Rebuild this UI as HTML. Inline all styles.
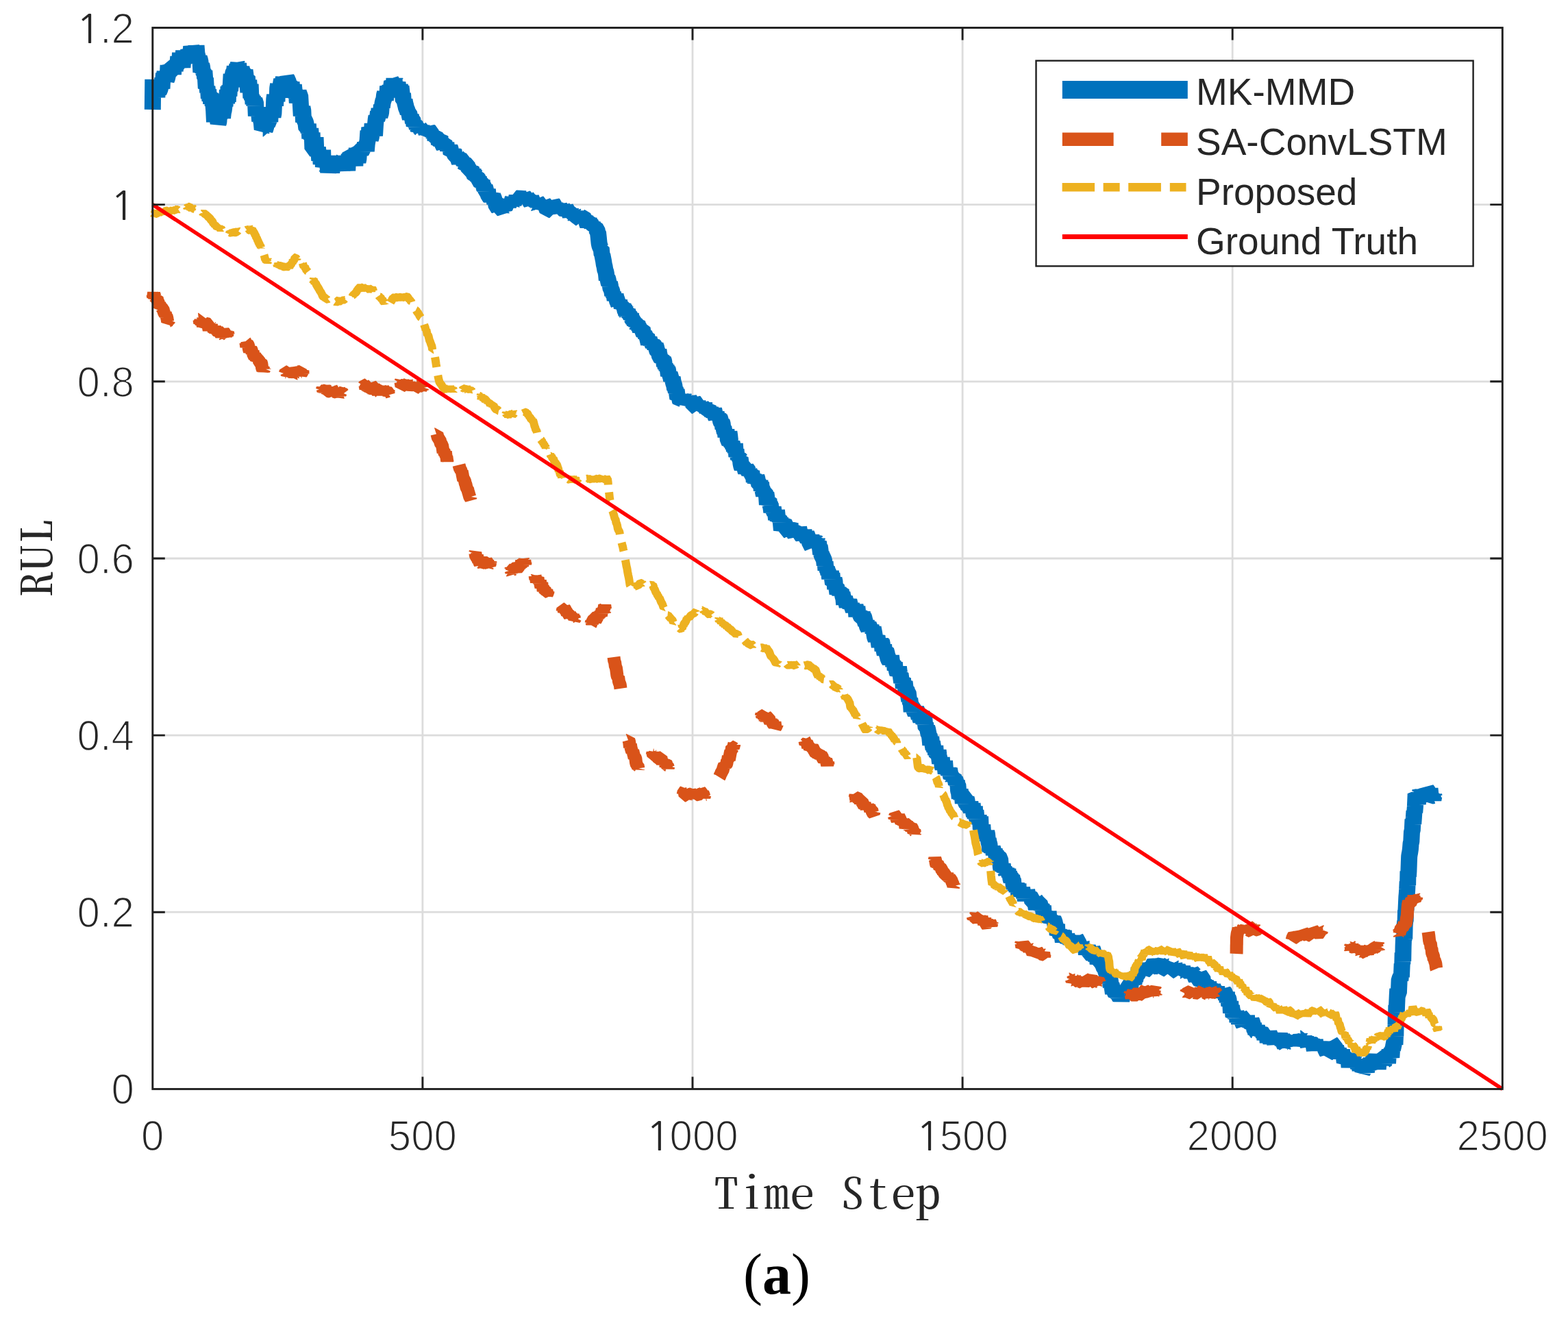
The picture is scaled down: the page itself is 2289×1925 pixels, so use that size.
<!DOCTYPE html>
<html><head><meta charset="utf-8"><title>RUL prediction</title>
<style>html,body{margin:0;padding:0;background:#fff;}svg{display:block;}</style>
</head><body>
<svg xmlns="http://www.w3.org/2000/svg" width="2289" height="1925" viewBox="0 0 2289 1925">
<rect width="2289" height="1925" fill="#fff"/>
<path d="M616.9 40.5V1589.4M1011.0 40.5V1589.4M1405.1 40.5V1589.4M1799.2 40.5V1589.4M222.8 1331.2H2193.3M222.8 1073.1H2193.3M222.8 815.0H2193.3M222.8 556.8H2193.3M222.8 298.6H2193.3" stroke="#dcdcdc" stroke-width="2.8" fill="none"/>
<g fill="none" stroke-linejoin="round">
<path d="M222.8 160L223.3 116 223.7 139.3 224.7 134.4 225.6 129.3 226.5 131.5 227.5 126.9 228.4 133.4 229.3 141.6 230.3 127.9 231.2 126.2 232.1 133.1 233.1 131.3 234 128.7 234.8 120.3 235.7 125.3 236.5 129.1 237.3 113.6 238.2 118.6 239 107.2 239.8 110.2 240.6 105.1 241.5 115.1 242.3 106.7 243.1 116.2 244 114.1 244.8 110.5 245.6 95.5 246.5 105.6 247.4 107.8 248.4 107.7 249.3 95.1 250.2 101.2 251.1 96.5 252 96.5 252.9 108.4 253.9 94.2 254.8 98.4 255.7 103.6 256.6 92.2 257.5 94.3 258.4 94.7 259.4 93.2 260.3 82.9 261.2 90.9 262.1 98.7 263 77.1 263.9 93.1 264.7 86.9 265.5 80.7 266.4 98.2 267.2 88.7 268.1 74 268.9 82 269.7 84.6 270.6 78.3 271.4 83.5 272.3 77.5 273.3 82.4 274.3 87.6 275.3 72.6 276.3 78.6 277.2 73.7 278.2 77.6 279.2 68.2 280.2 72.3 281.2 74.8 282.1 82.4 283 85 283.9 68.6 284.8 73.2 285.6 84.2 286.5 66.6 287.4 78.2 288.3 81.6 289.2 92 290 88.9 290.9 84.4 291.7 86.7 292.5 90.2 293.4 105.2 294.2 94.2 295 97.7 295.9 104.9 296.7 104.2 297.5 106.6 298.3 103.3 299.1 114.1 300 114.3 300.8 128.7 301.6 128.2 302.4 126.6 303.2 134.6 304.1 130.7 304.9 143.6 305.7 139.3 306.5 146.6 307.3 136.6 308.2 151.2 309 140.1 309.9 140.1 310.7 154.3 311.4 152.2 312.2 161.8 313 177.8 313.8 159 314.6 162.6 315.4 170.5 316.2 174.6 317 172 317.8 173.9 318.6 180 319.4 177.5 320.2 165.3 321 170.7 321.8 170.3 322.6 161.4 323.4 169.3 324.2 160.2 325 171.8 325.9 164 326.7 160.9 327.6 153.8 328.5 154.8 329.3 139.3 330.2 143 331.1 151.1 331.9 131.3 332.7 148.5 333.6 126.4 334.4 140 335.2 124.9 336 132.3 336.8 123.9 337.7 108.3 338.5 123.9 339.3 121.3 340.1 107.4 341 104.7 341.9 104.3 342.8 97.4 343.7 110.7 344.6 98 345.5 100.3 346.4 94.7 347.3 96.3 348.1 92.3 349 110.5 349.9 101.1 350.7 109.5 351.6 103.3 352.5 98.8 353.3 102.3 354.1 102.2 355 107.7 355.8 106.6 356.6 108.6 357.5 102.6 358.3 108.2 359.1 126.9 359.9 112.2 360.8 112.1 361.6 124.5 362.4 134.6 363.2 117.2 364 128.6 364.8 128.2 365.6 123 366.4 143.1 367.2 140.4 368 143.7 368.8 140.5 369.6 151.6 370.4 147.3 371.3 152.7 372.2 148 373 149.3 373.9 169.2 374.8 158.4 375.7 166.1 376.6 165.9 377.4 165.1 378.3 166.7 379.2 176.7 380.1 172.3 381 175.4 381.8 178.7 382.7 188.8 383.6 187.4 384.5 187.4 385.3 181.5 386.2 174 387.1 188.5 388 186.8 388.9 177.3 389.8 180.3 390.7 180.2 391.5 178.7 392.4 177.6 393.3 166.1 394.2 177.8 395 156.4 395.9 169.1 396.8 164.5 397.7 165.1 398.5 170 399.4 165.2 400.3 144.7 401.1 138.8 402 154.3 402.8 139.3 403.6 144.3 404.4 148.1 405.2 128.7 406.1 123.3 406.9 137.8 407.7 134.2 408.5 130.1 409.3 130 410.1 121.9 411.1 116.5 412 125.1 413 118.6 413.9 113.1 414.9 127.4 415.8 122.6 416.8 125 417.7 115.3 418.6 118 419.5 116 420.5 117.2 421.4 125.1 422.2 118.8 423 128 423.8 129.2 424.7 142.2 425.5 119.5 426.3 136.7 427.2 131.1 428 132.9 428.8 124.1 429.7 132.3 430.5 142 431.3 137.4 432.2 139.8 433 138.5 433.8 149.8 434.7 143.9 435.5 131.7 436.4 144.5 437.2 138.2 438.1 139.5 438.9 153.5 439.8 169.1 440.6 162.7 441.4 156.8 442.3 161.1 443.1 178.2 444 174 444.8 175.8 445.7 177.5 446.5 180.2 447.4 187.7 448.2 188 449 187.7 449.8 181 450.6 194 451.5 187.7 452.3 202.2 453.1 187.8 453.9 197.8 454.7 200.8 455.6 193.7 456.4 217.1 457.2 217.4 458 206 458.8 216.8 459.7 216.1 460.5 200.5 461.3 219.4 462.1 219.3 462.9 222.4 463.8 215.5 464.7 222.1 465.5 223.7 466.3 234.2 467.1 229.2 467.9 227.7 468.7 239.4 469.5 225.8 470.3 227.9 471.1 218.9 471.9 243.6 472.7 240.3 473.5 240.9 474.3 240.1 475.1 237.2 475.9 238.9 476.7 236.5 477.5 237.8 478.3 240.6 479.2 251.6 480.2 244.7 481.2 240.3 482.2 236.5 483.2 236 484.2 251.5 485.2 243.7 486.2 240.5 487.2 237.5 488.1 232 489.1 239.2 490.1 245.7 491.1 236.7 492.1 237.7 493.1 237.6 494.1 239.8 495.1 227.8 496.1 237.1 497.1 232.7 498.1 244.7 499.1 233 500 242.3 501 248.8 502 235.8 502.9 233.3 503.7 238.3 504.6 236.4 505.4 228.9 506.3 238.6 507.2 249 508 232.5 508.9 232.4 509.7 226 510.6 235 511.4 223.5 512.3 224 513.1 240.2 514 224.4 514.8 237.8 515.7 240.3 516.5 231 517.4 232.5 518.3 241.8 519.1 226.2 520 222.9 520.8 217.1 521.7 226.3 522.5 235.9 523.4 231.7 524.2 217.9 525.1 217.9 525.9 218.9 526.8 222.9 527.7 217.9 528.6 219.4 529.5 218.4 530.4 212.8 531.3 213.1 532.2 213.3 533 209.7 533.9 212.3 534.8 220.4 535.7 210 536.6 204.7 537.5 191 538.4 204 539.3 186.1 540.1 188.4 541 202.7 541.9 200.1 542.8 192.7 543.7 180.7 544.6 188.3 545.4 184.4 546.2 190.7 547 198.1 547.9 183.2 548.7 174.5 549.5 169.7 550.3 174.4 551.2 171.3 552 163 552.8 168.4 553.6 158.4 554.5 169.5 555.3 166.8 556.1 164.5 556.9 153.2 557.8 156.4 558.6 150.4 559.4 146.9 560.3 145.4 561.1 138.4 561.9 135.9 562.8 146 563.6 139 564.4 139.3 565.3 141.4 566.1 125.8 566.9 128.8 567.8 131.7 568.6 131 569.4 125.4 570.3 130.7 571.2 126.3 572.1 119.2 572.9 120.1 573.8 127.4 574.7 125.4 575.5 114.6 576.4 128.1 577.3 124.7 578.1 128.3 578.9 121.8 579.7 122.7 580.5 120 581.3 133.5 582.1 125 583 132.3 583.8 124.4 584.6 129.7 585.5 126 586.3 133.5 587.1 141.2 588 136.4 588.8 147.1 589.6 147.5 590.5 145.9 591.3 150.6 592.1 153.6 593 157.8 593.8 159.2 594.6 161.3 595.5 164.9 596.3 164.2 597.2 164.8 598 169.4 598.8 173 599.7 168.1 600.5 173.3 601.3 172.9 602.2 173.3 603 179.1 603.8 176.9 604.7 183.2 605.5 178.8 606.3 182.9 607.2 182.7 608 182.6 608.8 187.2 609.6 185.9 610.5 188.2 611.5 186.9 612.4 184.7 613.3 187.6 614.2 188.4 615.1 191 616 186.8 617 189.3 617.9 185.5 618.8 191.8 619.7 187.9 620.6 186.5 621.6 191.2 622.5 194.5 623.4 188.4 624.3 189.8 625.2 191.1 626.2 190.5 627.1 194.7 628 192.1 628.9 192.7 629.8 196.4 630.8 193.8 631.7 197.6 632.7 195 633.6 195.2 634.5 194.5 635.5 204.5 636.4 199.9 637.3 202.2 638.2 202.3 639.2 203.6 640.1 204.2 641 209.7 642 203.1 642.9 202.7 643.8 204.9 644.8 204.9 645.7 210.9 646.6 211.9 647.6 208.3 648.5 208.1 649.4 211.5 650.3 216.7 651.3 208.7 652.2 216.2 653.1 213.1 654 219.2 655 214.8 655.9 217.6 656.8 215.4 657.7 217.5 658.6 224.3 659.6 223.7 660.5 221.5 661.4 221.2 662.3 219.5 663.2 224.1 664.2 225.8 665.1 226.5 666 227.4 666.9 225.6 667.9 229.1 668.8 230 669.7 234.2 670.6 236.5 671.5 232.3 672.5 231.6 673.4 234.2 674.2 233.8 675.1 234.3 675.9 237 676.8 235.4 677.6 240.4 678.5 239.6 679.4 241.4 680.2 241.2 681.1 240.7 681.9 241.1 682.8 243.8 683.7 243.9 684.5 246.8 685.4 247.1 686.2 244.6 687.1 249.1 687.9 246.5 688.8 249.2 689.7 250.9 690.5 247.4 691.3 253.7 692.1 254.8 693 255 693.8 255.3 694.6 256.4 695.4 255.8 696.2 258.5 697 258.7 697.9 261.3 698.7 259 699.5 263.6 700.3 264.3 701.1 264.5 702 264.7 702.8 268.1 703.6 263.8 704.4 270.4 705.3 271.1 706.1 272.5 706.9 274 707.7 272.6 708.5 274.9 709.3 278.4 710.1 279.1 711 279.8 711.8 276.8 712.6 283.2 713.4 286 714.3 286.8 715.1 285.9 715.9 282.3 716.7 289.5 717.5 287.8 718.3 283.7 719.1 291 719.9 287.3 720.7 288.7 721.5 291.3 722.3 297.1 723.1 293.9 723.9 296.5 724.7 301.1 725.5 301.7 726.3 298.4 727.1 299 728 297.4 728.8 299.8 729.6 303.5 730.5 303.8 731.4 302.6 732.4 304.5 733.3 299.6 734.2 301 735.1 302.6 736 301.8 736.9 302.6 737.9 300.6 738.8 298.4 739.7 299.7 740.6 295.9 741.5 293.9 742.4 299 743.3 297 744.3 297.5 745.2 292.1 746.1 295 746.9 293.9 747.8 292.7 748.6 289 749.5 293 750.3 295.5 751.2 293.7 752 290.7 752.9 291.7 753.7 293.1 754.6 285.3 755.4 289.8 756.3 290.9 757.1 290.8 758 292.8 758.8 290.8 759.7 288.2 760.5 287.7 761.4 288.4 762.2 284.8 763.1 286.5 764 289.3 764.9 292.4 765.8 287.6 766.6 288.3 767.5 289.4 768.4 292.7 769.3 289.7 770.2 293.9 771.1 288.3 772 290.7 772.9 291.2 773.7 294.1 774.6 295.2 775.5 289.3 776.4 291.2 777.3 294.8 778.2 292.8 779.1 291.1 780 297.9 780.8 297 781.7 297.5 782.6 295.5 783.5 299.8 784.4 297 785.3 300.8 786.2 296.3 787.1 296.9 788 299.7 789 297.6 790 301.3 791 300.4 792 297.6 793 300.3 793.9 299.4 794.9 302.8 795.9 299.1 796.9 299.8 797.9 304.1 798.9 306.6 799.8 306.4 800.8 301.7 801.8 302.3 802.8 305.8 803.8 301.8 804.8 299.9 805.7 302.8 806.7 303.8 807.7 300.8 808.7 298.9 809.7 299.7 810.6 305.1 811.6 301.7 812.6 303.4 813.6 304.5 814.6 305.7 815.6 303.5 816.5 305.8 817.5 302.5 818.5 304 819.5 302.6 820.4 308.4 821.3 305.8 822.3 304.4 823.2 305.7 824.1 306.4 825.1 309.1 826 303.7 827 305.4 827.9 307.4 828.8 314.1 829.8 311.5 830.7 309.2 831.6 311.6 832.6 315.3 833.5 309.9 834.4 309.9 835.4 314.2 836.3 312.8 837.2 313.6 838.2 311 839.1 317.4 840 317.3 841 314.8 841.9 315.4 842.8 309 843.8 316 844.7 314.3 845.7 316.2 846.6 317.2 847.5 315 848.4 312.1 849.3 318 850.3 316 851.3 317.9 852.2 318 853.2 319.4 854.2 315.7 855.1 324.9 856.1 323.3 857 326.3 858 329.2 859 325.1 859.9 321.4 860.9 324.4 861.9 324.4 862.8 327 863.8 329.2 864.8 324.8 865.7 331.5 866.7 327.7 867.6 333 868.6 332.8 869.6 333 870.5 334.4 871.4 335.3 872.2 338.5 873 339.2 873.8 346.8 874.6 354.9 875.4 358.6 876.1 360.4 876.9 362.2 877.7 362.2 878.6 371.7 879.4 372.3 880.2 376.7 881 380.6 881.8 386 882.6 389.1 883.4 394.4 884.2 395.8 885 399.9 885.8 408.6 886.7 405.4 887.5 407.4 888.3 411.6 889.2 414.4 890 412.2 890.8 416.9 891.7 422 892.5 422.8 893.3 424.8 894.2 430.7 895 427.5 895.8 431.7 896.8 431.7 897.7 437.9 898.6 430.5 899.5 434.9 900.4 436.4 901.3 440.6 902.2 441.7 903.1 444.8 904 438.6 905 445.6 905.9 444.2 906.8 444.4 907.7 448.6 908.6 446.2 909.6 444.5 910.4 449.7 911.2 447.8 912 450.9 912.8 454.4 913.6 455.2 914.4 459.3 915.2 455.8 916 453.4 916.8 456.3 917.6 456.9 918.5 457.1 919.3 462.2 920.1 460.4 920.9 458 921.7 465.7 922.5 464.6 923.3 466.7 924.1 467.1 924.9 469.3 925.7 468.8 926.7 473 927.6 472.1 928.5 473.2 929.4 474.5 930.3 471 931.3 475.4 932.2 476.3 933.1 478.7 934 476 934.9 484.6 935.8 482 936.8 479.9 937.7 479.8 938.6 484.6 939.5 486.3 940.4 485.9 941.3 489.1 942.3 488.4 943.2 492.6 944.1 490.6 945 493.5 945.9 497.2 946.9 501.4 947.8 494.7 948.7 497.2 949.6 497.4 950.5 502.7 951.4 499 952.4 501.9 953.3 504.2 954.2 503 955.1 504.3 956 506.7 956.9 503.8 957.9 506.6 958.8 510.4 959.7 513 960.5 513.4 961.4 510.9 962.2 515.7 963.1 520.4 964 521.3 964.8 521.3 965.7 520.8 966.6 526.1 967.4 524.6 968.3 524.6 969.2 527.1 970 534.2 970.9 532.6 971.8 536.5 972.6 534.2 973.5 539.6 974.3 537.6 975.1 540.5 976 548.1 976.8 546.4 977.6 545.1 978.4 548 979.3 550.8 980.1 554.8 980.9 552.4 981.7 551.1 982.6 556.8 983.4 559.9 984.3 562.5 985.1 567.9 985.9 567.7 986.8 571.3 987.6 568.9 988.5 576.2 989.3 581.6 990.2 580.6 991.1 581.6 992.1 581.6 993 585.9 994 579.3 995 581.5 996 583.1 997 584.1 997.9 581.3 998.9 583.4 999.9 582.1 1000.9 583.3 1001.9 582.8 1002.8 580.4 1003.8 583.5 1004.8 586.1 1005.8 581.4 1006.8 583.5 1007.7 586.2 1008.7 581.6 1009.7 585.3 1010.7 581.9 1011.6 588.6 1012.4 592 1013.3 592.2 1014.2 586.2 1015 589.6 1015.9 588.2 1016.8 588.7 1017.6 593.6 1018.5 585.4 1019.3 593.2 1020.2 590.3 1021.1 595.3 1021.9 592 1022.8 589.8 1023.7 593.3 1024.5 595.3 1025.4 593.6 1026.2 595.6 1027.1 592.7 1028 587.9 1028.8 598.5 1029.7 598.3 1030.6 596.9 1031.5 597.1 1032.4 600.9 1033.3 596.2 1034.2 595.7 1035 598 1035.9 603.4 1036.8 594.6 1037.7 604.4 1038.6 598.2 1039.5 597 1040.3 606.2 1041.2 601.6 1042.1 597.5 1043 601.5 1043.9 606.9 1044.8 608.4 1045.7 602.6 1046.5 606.3 1047.3 608.4 1048.2 604.7 1049 610.2 1049.8 610.2 1050.6 609.7 1051.4 611.4 1052.2 615.2 1053 616.6 1053.8 615.8 1054.6 617.9 1055.5 625.6 1056.3 623.6 1057.1 627.8 1057.9 630.6 1058.7 629.7 1059.5 637.5 1060.3 627.2 1061.1 635.2 1062 632.3 1062.8 642.5 1063.6 643.5 1064.4 630.4 1065.2 635.9 1066 644 1066.8 646 1067.6 647.4 1068.5 645.7 1069.3 649.6 1070.2 652.4 1071.1 651.6 1071.9 658.1 1072.8 647.5 1073.7 660.7 1074.5 656.1 1075.4 666.1 1076.3 663.4 1077.1 662.9 1078 670 1078.9 666.9 1079.8 669 1080.6 668.5 1081.5 676.7 1082.3 680.3 1083.3 683.2 1084.2 679.4 1085.1 685 1086 681.7 1087 682.1 1087.9 685.7 1088.8 688.4 1089.7 683.7 1090.6 684.9 1091.6 686.1 1092.5 687.9 1093.4 684.8 1094.3 693.4 1095.3 688.5 1096.2 692.8 1097.1 688.5 1098 694.1 1099 695 1099.9 692.6 1100.8 703.2 1101.7 697.5 1102.6 704 1103.6 701.5 1104.5 695.9 1105.3 698.2 1106.1 703.3 1106.9 703.6 1107.7 705.4 1108.5 705.9 1109.4 701.7 1110.2 709.8 1111 704 1111.8 715.9 1112.6 713.3 1113.4 715.2 1114.2 719 1115 722.8 1115.8 717.8 1116.7 718.1 1117.5 722.1 1118.3 719.4 1119.1 725 1119.9 736.5 1120.7 727.2 1121.5 735.2 1122.3 728.4 1123.1 736.4 1123.9 735.2 1124.7 737.5 1125.5 741.2 1126.3 747.3 1127.1 742.3 1127.9 743.3 1128.7 740.1 1129.6 747.6 1130.5 745.8 1131.3 751.6 1132.2 749.7 1133.1 758.3 1133.9 744.9 1134.8 753.2 1135.7 759.4 1136.5 756 1137.4 755.8 1138.3 759.4 1139.1 756.5 1140 764 1140.9 773.6 1141.7 771.1 1142.7 762.9 1143.6 764.3 1144.5 766.6 1145.4 772.6 1146.3 765.8 1147.2 766.7 1148.1 773.5 1149 773.8 1149.9 769.3 1150.8 766.7 1151.7 765.4 1152.6 769.3 1153.5 763.9 1154.4 775.9 1155.3 770.9 1156.2 775.7 1157.1 781.7 1158 779.4 1158.9 770.5 1159.8 779 1160.7 780.6 1161.6 773.4 1162.5 773 1163.4 776.8 1164.3 771.3 1165.2 784 1166.1 770 1167 774.6 1167.9 778.3 1168.8 778.9 1169.7 780.9 1170.6 781.8 1171.5 780.2 1172.4 786.1 1173.4 773.4 1174.3 782.4 1175.2 779.9 1176.1 783.7 1177 784.5 1177.9 780.4 1178.8 781.9 1179.7 788 1180.6 786.7 1181.5 783 1182.4 794.3 1183.3 795.1 1184.3 781.1 1185.2 788.6 1186.1 796.4 1187 791.4 1187.9 789.5 1188.8 788.2 1189.7 787.3 1190.6 789 1191.5 788.1 1192.4 793.7 1193.2 790 1194 791.9 1194.9 791 1195.7 797.7 1196.5 796.4 1197.3 801.3 1198.1 808.3 1198.9 807.7 1199.7 810.4 1200.6 812.4 1201.4 813.8 1202.2 815.7 1203 817.6 1203.8 824.5 1204.6 819.8 1205.5 832.1 1206.3 829.5 1207.1 829 1207.9 832.7 1208.7 833.4 1209.5 838 1210.3 835.8 1211.2 844.5 1212 838.1 1212.8 833.9 1213.6 840.8 1214.4 836.9 1215.2 846.1 1216 851.7 1216.8 851.4 1217.6 844.7 1218.4 848.2 1219.2 859.7 1220 855.1 1220.9 855.1 1221.7 860.6 1222.5 866.2 1223.3 864.1 1224.1 860.7 1225 863.1 1225.9 865.6 1226.8 862.2 1227.7 861.9 1228.6 867.9 1229.5 865.4 1230.4 870.4 1231.3 872.5 1232.2 882.2 1233.1 871.7 1234 876.2 1234.9 877.5 1235.8 881.4 1236.6 884.8 1237.5 879.5 1238.5 879 1239.4 876.6 1240.3 880.3 1241.2 887 1242.1 885.8 1243.1 882.4 1244 885.9 1244.9 888.3 1245.8 891.1 1246.7 887.5 1247.6 889.7 1248.6 884.3 1249.5 887.8 1250.4 899.8 1251.3 885.5 1252.2 893.6 1253.2 896.7 1254.1 895.2 1255 894.3 1255.9 898.1 1256.8 899.2 1257.7 899.7 1258.7 893.4 1259.6 901.2 1260.5 899.2 1261.4 901.3 1262.3 905.3 1263.1 908.2 1263.9 910.5 1264.8 906.1 1265.6 913.1 1266.4 915.3 1267.2 916.4 1268.1 918.7 1268.9 913.8 1269.7 914.9 1270.6 920.2 1271.4 912.6 1272.2 920.2 1273.1 918.5 1273.9 920.4 1274.7 916.1 1275.6 920.8 1276.4 925.5 1277.2 930.4 1278.1 932.1 1278.9 929 1279.7 929.8 1280.5 928.5 1281.3 934.7 1282.1 933.4 1282.9 938.1 1283.7 944 1284.5 938.1 1285.3 933.5 1286.1 937.3 1286.9 936.2 1287.7 938.5 1288.5 949.8 1289.3 946.8 1290.1 941 1290.9 951 1291.7 954.7 1292.6 949.4 1293.4 949.4 1294.2 952 1295.1 955.7 1295.9 958.4 1296.7 961.8 1297.6 963.2 1298.4 964.3 1299.2 966.3 1300.1 964.7 1300.9 957.2 1301.7 964.1 1302.6 967.1 1303.4 965.6 1304.2 972 1305.1 968.1 1305.9 967.1 1306.7 977.9 1307.6 976 1308.4 975.7 1309.3 980.4 1310.1 982.7 1311 981.6 1311.9 973.5 1312.8 981.2 1313.6 983.8 1314.5 983.5 1315.4 990.1 1316.2 995.8 1317.1 990.9 1318 990.1 1318.8 1004.6 1319.7 996.5 1320.6 995.1 1321.5 1002.8 1322.3 1005.6 1323.1 1003.7 1324 1012.3 1324.8 1009.8 1325.7 1010.7 1326.5 1017.7 1327.4 1022.7 1328.2 1019.7 1329 1026.2 1329.9 1027.1 1330.7 1038.7 1331.6 1028.8 1332.4 1038.1 1333.2 1033.3 1334.1 1033.9 1334.9 1038.2 1335.8 1039.8 1336.6 1042.2 1337.4 1039.4 1338.3 1036.6 1339.1 1037.8 1340 1042.9 1340.8 1044.1 1341.6 1048.3 1342.5 1045.3 1343.3 1048.8 1344.2 1051.6 1345 1047.1 1345.9 1041.4 1346.7 1043.5 1347.5 1043.4 1348.4 1056.5 1349.2 1047.6 1350.1 1056.9 1350.9 1055.2 1351.7 1062.6 1352.5 1062.9 1353.3 1061.6 1354.2 1064.4 1355 1068.7 1355.8 1072.2 1356.6 1072.5 1357.4 1077.6 1358.3 1087.1 1359.2 1075.6 1360 1085.3 1360.9 1082.4 1361.8 1088.6 1362.6 1093 1363.5 1091.2 1364.3 1096.4 1365.2 1088.7 1366.1 1101.3 1366.9 1096.3 1367.8 1103 1368.7 1103 1369.6 1095.2 1370.4 1102 1371.3 1107.1 1372.1 1113.7 1373 1109.9 1373.9 1111 1374.7 1105.5 1375.6 1118.1 1376.4 1120.8 1377.3 1115 1378.2 1115.2 1379 1110.8 1379.9 1122.1 1380.7 1128.4 1381.6 1123.9 1382.5 1127.3 1383.3 1125.6 1384.2 1120.7 1385 1131.3 1385.9 1122.2 1386.8 1127.5 1387.6 1130.7 1388.5 1134.4 1389.3 1133.7 1390.1 1134.9 1391 1132.1 1391.8 1131.8 1392.6 1139 1393.4 1137.8 1394.2 1137.2 1395 1139.2 1395.9 1144.1 1396.7 1140.5 1397.5 1144.3 1398.3 1145 1399.1 1154.1 1400 1156.8 1400.8 1165.1 1401.6 1152.9 1402.4 1158 1403.4 1166.1 1404.2 1162.5 1405 1163 1405.8 1172.1 1406.6 1164.9 1407.4 1162.6 1408.2 1162.9 1409 1170.4 1409.8 1171.3 1410.7 1165.5 1411.5 1168 1412.3 1175 1413.1 1176.2 1413.9 1172.2 1414.7 1178.2 1415.5 1179 1416.3 1170.5 1417.1 1177.4 1418 1181.2 1418.8 1178.2 1419.6 1172.9 1420.4 1181.3 1421.2 1186.4 1422 1190.6 1422.8 1176.7 1423.6 1194.8 1424.4 1182.7 1425.2 1191.9 1426.1 1194.2 1427 1195.1 1427.8 1193.6 1428.6 1190.1 1429.4 1199.1 1430.2 1195.6 1431 1191.7 1431.8 1210.7 1432.6 1206.8 1433.4 1213 1434.2 1203.9 1435.1 1215.5 1435.9 1218.1 1436.8 1220.1 1437.6 1215.8 1438.5 1213.2 1439.3 1219.4 1440.2 1213.6 1441 1217.5 1441.9 1226.7 1442.7 1224.5 1443.6 1229.9 1444.4 1232.2 1445.3 1242.1 1446.2 1241.1 1447.1 1237.2 1448 1243.7 1448.9 1237.3 1449.9 1240.5 1450.8 1247 1451.7 1239.9 1452.6 1245.2 1453.5 1242.5 1454.5 1249.8 1455.4 1257.3 1456.3 1249.3 1457.2 1254.7 1458.1 1251.7 1459.1 1252.2 1460 1253.3 1460.9 1265.5 1461.8 1269.8 1462.7 1264.6 1463.6 1261.3 1464.6 1268.5 1465.5 1265.8 1466.3 1271.6 1467.1 1270.8 1468 1272.1 1468.8 1274.6 1469.6 1271.1 1470.5 1273.1 1471.3 1269 1472.1 1275.4 1472.9 1272.7 1473.8 1279.1 1474.6 1277.1 1475.4 1282.6 1476.3 1285.2 1477.1 1279 1477.9 1282.7 1478.8 1283.4 1479.6 1291.4 1480.4 1296.5 1481.3 1294.3 1482.1 1290.8 1482.9 1299.3 1483.8 1288.6 1484.6 1301.9 1485.4 1294.5 1486.4 1289.7 1487.2 1307.5 1488 1305.8 1488.8 1296 1489.6 1301.4 1490.4 1300.4 1491.2 1302.3 1492 1296.5 1492.8 1300.4 1493.6 1305.6 1494.4 1305.2 1495.2 1309.7 1496 1305.8 1496.8 1314.7 1497.6 1303.8 1498.4 1308.3 1499.2 1300.2 1500 1303.5 1500.8 1314.4 1501.6 1305.9 1502.4 1312.4 1503.2 1310.6 1504 1307.3 1504.8 1310.7 1505.6 1310.6 1506.4 1311.3 1507.2 1316.9 1508 1317.1 1508.8 1312.8 1509.6 1312.1 1510.4 1317.4 1511.2 1316.5 1512 1321.6 1512.8 1326.7 1513.6 1322.1 1514.4 1319.1 1515.2 1319.2 1516 1317.1 1516.8 1317.5 1517.6 1317.7 1518.5 1320.9 1519.4 1321.7 1520.2 1327.3 1521.1 1323.6 1521.9 1325.4 1522.8 1322.2 1523.7 1334.5 1524.5 1330.9 1525.4 1336.9 1526.2 1333.9 1527.1 1337.6 1528 1331.5 1528.8 1336.3 1529.7 1342.9 1530.5 1330.3 1531.4 1340.8 1532.3 1343.8 1533.1 1339.6 1534 1341.9 1534.8 1344.9 1535.7 1338 1536.6 1343.8 1537.5 1340.4 1538.4 1343 1539.3 1345 1540.2 1348.7 1541.1 1351.7 1541.9 1354.7 1542.8 1348.9 1543.7 1364.6 1544.6 1363 1545.5 1363 1546.4 1360.4 1547.4 1362.8 1548.3 1365.9 1549.2 1365.8 1550.1 1357.7 1550.9 1368.1 1551.8 1374.2 1552.7 1358.4 1553.6 1370.6 1554.5 1368.5 1555.4 1367 1556.2 1373.5 1557.1 1363.5 1558 1369.5 1558.9 1375.3 1559.8 1369 1560.7 1368.5 1561.5 1371.2 1562.4 1369.3 1563.3 1378 1564.2 1368.4 1565.1 1376.2 1566 1367.9 1566.8 1376.3 1567.7 1373.5 1568.6 1365.8 1569.5 1374.9 1570.4 1371 1571.3 1374 1572.1 1382.6 1573 1372.2 1573.9 1372.9 1574.8 1383.6 1575.7 1378.7 1576.6 1385 1577.4 1380.4 1578.3 1376 1579.2 1379.8 1580.1 1385.6 1581 1384.9 1582 1381.8 1583 1382.7 1583.9 1382.8 1584.9 1381.7 1585.9 1392.8 1586.9 1385.6 1587.9 1381.7 1588.9 1385.2 1589.8 1390.9 1590.8 1391.3 1591.8 1388.9 1592.8 1387.5 1593.8 1391.1 1594.8 1384.9 1595.8 1387.2 1596.7 1396.6 1597.7 1392.1 1598.7 1396.4 1599.7 1400.6 1600.7 1399.1 1601.7 1397.3 1602.6 1406.5 1603.6 1401.5 1604.5 1398.4 1605.3 1404.5 1606.1 1404.7 1607 1401 1607.8 1406.4 1608.6 1406.9 1609.5 1401.1 1610.3 1410 1611.1 1411.1 1612 1412 1612.8 1408.5 1613.6 1415.4 1614.4 1418.2 1615.3 1420.4 1616.1 1416.8 1616.9 1425.6 1617.8 1419.6 1618.6 1425.7 1619.3 1434.4 1620.1 1428.6 1620.9 1431.7 1621.7 1440.6 1622.5 1436.9 1623.3 1439.7 1624.1 1444.2 1624.9 1449.9 1625.7 1439.4 1626.5 1447 1627.3 1447.9 1628.3 1447.7 1629.3 1448.8 1630.2 1449.1 1631.2 1453.9 1632.2 1449.2 1633.2 1453.5 1634.2 1454.8 1635.2 1450.3 1636.2 1453.9 1637.2 1460.3 1638.2 1455 1639.1 1451.3 1640.1 1453.6 1640.9 1448.9 1641.7 1452.4 1642.5 1453.5 1643.3 1445.7 1644.1 1446.8 1644.9 1450.4 1645.7 1443.2 1646.5 1444.5 1647.3 1438.9 1648.1 1438.4 1649 1438.2 1649.8 1445.7 1650.6 1436.1 1651.4 1434.5 1652.2 1433.2 1653 1433.2 1653.8 1434.3 1654.6 1431.7 1655.4 1435.7 1656.2 1429.2 1657 1431.3 1657.8 1426.8 1658.6 1426.4 1659.5 1419.9 1660.3 1422 1661.1 1420.9 1661.9 1419.2 1662.7 1413.1 1663.6 1420 1664.6 1416.5 1665.5 1416.1 1666.5 1416.3 1667.5 1416.1 1668.4 1417.4 1669.4 1412.9 1670.3 1413.4 1671.3 1416.2 1672.2 1415.6 1673.2 1414 1674.2 1413.2 1675.1 1412.2 1676.1 1413.9 1677 1416.7 1678 1410.8 1678.9 1417 1679.9 1415 1680.9 1411.4 1681.8 1414.2 1682.8 1408.3 1683.7 1407.4 1684.7 1408.2 1685.6 1410.1 1686.6 1410.2 1687.6 1409.8 1688.6 1411.4 1689.6 1405.9 1690.6 1412.5 1691.6 1407.8 1692.6 1409.8 1693.6 1410.5 1694.6 1408.7 1695.6 1408.2 1696.6 1409.2 1697.6 1411.7 1698.6 1413.3 1699.6 1413.3 1700.6 1409.5 1701.6 1410 1702.6 1409.8 1703.6 1413.3 1704.6 1407.1 1705.6 1415.4 1706.6 1411.1 1707.6 1410.4 1708.6 1413.3 1709.6 1415.1 1710.6 1413.4 1711.6 1415.3 1712.6 1413 1713.6 1415.9 1714.6 1416 1715.6 1412.7 1716.6 1416.6 1717.5 1413.6 1718.5 1413.8 1719.4 1411.6 1720.3 1413.5 1721.3 1416.5 1722.2 1411.6 1723.2 1416.9 1724.1 1416.5 1725 1416.6 1726 1410.9 1726.9 1416.4 1727.8 1418.6 1728.8 1415.4 1729.7 1417.9 1730.7 1412.6 1731.6 1420 1732.5 1417 1733.5 1421.2 1734.4 1414.8 1735.4 1421.5 1736.3 1419.5 1737.2 1422.4 1738.2 1418.5 1739.1 1419.6 1740.1 1426.8 1741 1419.7 1741.9 1420.4 1742.9 1421.8 1743.8 1420.3 1744.7 1426.2 1745.7 1427.8 1746.6 1422.1 1747.5 1420.1 1748.4 1428.1 1749.4 1428.7 1750.4 1428.8 1751.4 1430.5 1752.4 1426 1753.3 1428.6 1754.3 1426.1 1755.3 1426.7 1756.3 1434.2 1757.2 1430.3 1758.2 1439.2 1759.2 1434 1760.2 1432.6 1761.1 1437.7 1762.1 1441.7 1763.1 1438.4 1764.1 1433.8 1765 1439.6 1766 1443.8 1767 1438.3 1767.8 1437.9 1768.6 1444.6 1769.5 1442.2 1770.3 1438.4 1771.1 1441.5 1771.9 1440.7 1772.7 1445.1 1773.6 1445 1774.4 1449.4 1775.2 1448.4 1776 1440.3 1776.8 1448.4 1777.7 1450.9 1778.5 1449.8 1779.3 1452.6 1780.1 1446.9 1780.9 1445.9 1781.8 1454.1 1782.6 1446.4 1783.4 1442.4 1784.2 1456.3 1785.1 1449.5 1785.9 1451.8 1786.7 1447.6 1787.5 1448.5 1788.3 1449.7 1789.2 1453.8 1790 1457.6 1790.8 1447.9 1791.7 1462.7 1792.6 1455.8 1793.5 1458.1 1794.3 1467.7 1795.2 1466.1 1796.1 1461.4 1797 1478.4 1797.9 1468 1798.8 1474.8 1799.7 1476.3 1800.6 1483.6 1801.5 1477 1802.3 1484.8 1803.2 1477.4 1804 1486.4 1804.8 1478.4 1805.7 1480.8 1806.5 1491.5 1807.3 1484.9 1808.2 1484.6 1809 1494.3 1809.8 1486.8 1810.7 1482 1811.5 1489.6 1812.4 1481.5 1813.2 1492.4 1814 1493.3 1814.9 1485.9 1815.7 1486.2 1816.5 1490.3 1817.4 1490.2 1818.2 1486.2 1819 1493.8 1819.9 1482.6 1820.7 1490.3 1821.5 1491 1822.4 1492.2 1823.2 1495.3 1824.1 1489 1824.9 1497.7 1825.7 1494.8 1826.6 1493.2 1827.4 1490.5 1828.2 1491.9 1829.1 1499.4 1829.9 1494 1830.7 1499.2 1831.6 1504.2 1832.4 1504.6 1833.2 1507.6 1834.1 1499.7 1834.9 1496.7 1835.8 1506.8 1836.6 1504.1 1837.4 1508.3 1838.2 1503.9 1839.1 1509.8 1839.9 1508.8 1840.7 1508.8 1841.5 1508.4 1842.4 1508.5 1843.2 1508.3 1844 1508.9 1844.8 1512.9 1845.6 1506.7 1846.5 1517.4 1847.3 1509.6 1848.1 1515.1 1848.9 1510.9 1849.8 1510.7 1850.7 1521.4 1851.6 1511.1 1852.6 1507.1 1853.5 1509.9 1854.5 1512 1855.4 1523.4 1856.4 1514.9 1857.4 1518.5 1858.3 1510.1 1859.3 1516.5 1860.2 1518.2 1861.2 1523.6 1862.1 1512.6 1863.1 1518.8 1864 1517.7 1865 1512.1 1865.9 1516.9 1866.9 1516.1 1867.9 1507.9 1868.8 1520.5 1869.8 1520.6 1870.7 1516.5 1871.7 1512.7 1872.6 1525.7 1873.6 1520.5 1874.5 1524.2 1875.5 1526.3 1876.5 1517.9 1877.4 1524.2 1878.4 1519.7 1879.3 1520.6 1880.3 1520.2 1881.2 1520.3 1882.2 1525 1883.1 1520.2 1884.1 1518.6 1885 1517.8 1886 1520.2 1886.9 1514.3 1887.9 1515.8 1888.8 1517.5 1889.8 1514.9 1890.7 1516.6 1891.6 1514 1892.6 1525.5 1893.5 1522.1 1894.5 1517.9 1895.4 1515.3 1896.4 1524.9 1897.3 1516.3 1898.3 1514.2 1899.2 1515.6 1900.2 1515.5 1901 1521 1901.9 1515.1 1902.7 1525.1 1903.6 1512.2 1904.4 1519.9 1905.3 1512.8 1906.1 1526 1907 1516.8 1907.8 1518.6 1908.7 1523.5 1909.5 1525.5 1910.4 1515.4 1911.2 1519.4 1912.1 1515.2 1912.9 1522.6 1913.8 1522.1 1914.6 1521.5 1915.5 1520.5 1916.3 1522.4 1917.2 1521.3 1918 1527.5 1918.9 1532.5 1919.7 1517.5 1920.6 1526.2 1921.5 1525.2 1922.5 1529.4 1923.5 1523.1 1924.5 1526.8 1925.5 1522.9 1926.4 1530.9 1927.4 1528.3 1928.4 1527.3 1929.4 1529.8 1930.4 1527.2 1931.4 1521.4 1932.4 1531.3 1933.4 1530 1934.4 1528.2 1935.4 1533.4 1936.4 1534.6 1937.3 1524.3 1938.3 1525.9 1939.3 1536.5 1940.3 1536 1941.3 1526.5 1942.3 1524.6 1943.3 1527.2 1944.3 1528 1945.3 1523.2 1946.3 1530.6 1947.2 1524.9 1948.2 1525.3 1949.2 1535 1950.2 1528.1 1951.1 1531.6 1952.1 1535.6 1953.1 1537.2 1954.1 1532.7 1955 1535.3 1956 1532 1957 1544.8 1957.9 1540.5 1958.9 1533.1 1959.9 1539 1960.9 1543.2 1961.8 1542.8 1962.8 1550.1 1963.8 1548.7 1964.7 1540.4 1965.7 1543.3 1966.7 1538.3 1967.7 1546.5 1968.6 1546.8 1969.6 1557.4 1970.6 1548.1 1971.4 1537.9 1972.2 1545.5 1973 1549.9 1973.9 1543.7 1974.7 1546.1 1975.5 1549.2 1976.4 1553.3 1977.2 1551.3 1978 1548.2 1978.9 1557.2 1979.7 1551.1 1980.5 1551.8 1981.4 1547.8 1982.2 1551.4 1983 1559.4 1983.9 1548.2 1984.7 1556.8 1985.5 1561.4 1986.4 1555.9 1987.4 1558.8 1988.3 1551.4 1989.3 1563.8 1990.2 1562.4 1991.1 1557.5 1992.1 1546.6 1993 1550 1994 1560.6 1994.9 1564.3 1995.9 1556.3 1996.8 1561.2 1997.8 1550.8 1998.7 1552.7 1999.7 1553.4 2000.6 1555.4 2001.6 1544.4 2002.5 1557.7 2003.5 1559.4 2004.4 1545.5 2005.4 1544.1 2006.3 1553.2 2007.3 1547.3 2008.2 1538.6 2009 1554.4 2009.9 1550.4 2010.8 1546.5 2011.7 1560.3 2012.6 1549 2013.5 1543.6 2014.4 1547.8 2015.3 1541.1 2016.2 1542.2 2017.1 1548.1 2018 1542.5 2018.9 1542.6 2019.8 1553.8 2020.7 1548.9 2021.6 1548.1 2022.5 1546.2 2023.4 1545.5 2024.3 1550.4 2025.1 1541.8 2026 1551.7 2026.9 1535.8 2027.8 1539.2 2028.7 1532.6 2029.6 1536.8 2030.5 1539.7 2031.3 1543.1 2032.2 1529.6 2033 1531.5 2033.9 1527.7 2034.7 1523.8 2035.6 1519.5 2036.4 1524.5 2037.1 1508.6 2037.3 1512.5 2037.4 1505.7 2037.6 1495.7 2037.7 1487.5 2037.8 1479.2 2038 1490.9 2038.4 1467 2038.8 1476.7 2039.2 1465.2 2039.7 1453.7 2040.3 1443.1 2041.1 1450.2 2041.9 1449.1 2042.7 1429.5 2043.5 1428.1 2044.3 1430.6 2045.1 1421.7 2045.9 1425.9 2046.7 1406.8 2047.3 1406.7 2047.7 1390.6 2048.2 1402.8 2048.6 1381 2049.1 1367 2049.4 1371.9 2049.8 1365.6 2050.2 1370.6 2050.6 1352 2050.9 1347.6 2051.3 1344.6 2051.7 1343.9 2052.1 1328.6 2052.5 1328.4 2052.9 1319.3 2053.4 1308.6 2053.8 1304.4 2054.2 1297.9 2054.7 1286.5 2055.1 1291.9 2055.5 1271.4 2055.9 1279.2 2056.4 1271.8 2056.8 1259.8 2057.2 1249.9 2057.7 1246.6 2058.2 1244.2 2058.9 1239.5 2059.6 1230.8 2060.3 1228.4 2061 1213.7 2061.8 1211.9 2062.5 1195.7 2063.2 1202.4 2063.9 1192.8 2064.5 1183.4 2065.2 1185.9 2065.9 1177.1 2066.7 1158.4 2067.5 1168.3 2068.3 1158 2069.1 1169.8 2069.9 1173.6 2070.7 1156.8 2071.7 1159.3 2072.7 1157.3 2073.7 1160.4 2074.7 1161.8 2075.7 1165.1 2076.7 1152.4 2077.6 1166.3 2078.6 1152.4 2079.6 1158.8 2080.6 1163.5 2081.6 1161 2082.5 1152.1 2083.5 1153.5 2084.5 1155 2085.5 1157.4 2086.5 1164.2 2087.5 1150.9 2088.5 1160.7 2089.5 1161.7 2090.5 1161.5 2091.4 1161.2 2092.4 1167.1 2093.4 1161.6 2094 1163.7" stroke="#0072bd" stroke-width="24" stroke-linecap="butt" stroke-linejoin="bevel"/>
<path d="M222.8 429.1L223.7 433.1 224.6 427.2 225.5 435.1 226.4 433.5 227.3 434.9 228.2 435.1 229.1 434.8 230 439.2 230.9 440.1 231.8 444 232.7 441.6 233.6 448.9 234.5 448.1 235.4 448.5 236.3 449.1 237.1 450.5 238 451.3 238.8 454 239.7 456.7 240.5 457.8 241.3 456.9 242.2 460.7 243 461 243.9 464.6 244.7 469.6 245.6 468.6 246.4 468.3 247 466.8" stroke="#d95319" stroke-width="19" stroke-linecap="butt" stroke-linejoin="bevel"/>
<path d="M290 466.2L290.9 466.1 291.8 471.3 292.7 468.8 293.6 470.9 294.5 470 295.4 471.9 296.3 474.9 297.2 471.2 298 472.3 298.9 471.9 299.8 475.7 300.7 472.3 301.6 472.5 302.5 472.5 303.4 472.9 304.3 477.1 305.2 481.6 306.1 475.1 307 479.4 307.9 478.4 308.8 476.2 309.7 478.3 310.6 478.8 311.5 478.4 312.4 484 313.3 476.8 314.2 481.8 315.1 482.1 316 480.7 316.9 482.5 317.8 484.4 318.7 483.4 319.7 484.3 320.6 485.3 321.5 480.2 322.4 487.7 323.3 489.7 324.2 487.5 325.1 488 326 483.6 326.9 486.6 327.8 485.6 328.8 486.4 329.7 490 330.6 486.8 331.5 488.6 332.4 485.5 333.3 489.4 334 490.2" stroke="#d95319" stroke-width="19" stroke-linecap="butt" stroke-linejoin="bevel"/>
<path d="M358 498.6L358.9 499.7 359.8 506.1 360.8 501.1 361.7 502.6 362.6 504.3 363.5 509.5 364.4 512.5 365.4 510.1 366.3 509.2 367.2 511 368.1 515.2 369.1 512.4 370 518.3 370.9 519.4 371.8 517.9 372.7 520.3 373.5 521.7 374.3 524.6 375.2 520.6 376 526.4 376.8 524.5 377.7 524.9 378.5 527.9 379.3 528.6 380.2 528.3 381 528.3 381.8 530.8 382.6 536.9 383.5 539.1 384.3 537.8 385.1 540.1 386 537.9 386 538.8" stroke="#d95319" stroke-width="19" stroke-linecap="butt" stroke-linejoin="bevel"/>
<path d="M416 545.6L417 542.8 418 542.9 419 545 420 544.1 421 542.5 422 545.3 423 544 424 546.5 425 544.3 426 543.7 427 544.5 428 543.8 429 542.7 430 543.2 431 545.4 432 545.1 433 546.3 434 540.3 434.9 542.8 435.9 542.7 436.9 543.8 437.9 542.4 438.9 542.2 439.9 544.7 440.9 543.4 441.9 540.7 442 545.7" stroke="#d95319" stroke-width="19" stroke-linecap="butt" stroke-linejoin="bevel"/>
<path d="M470 570L471 567.1 471.9 570.2 472.9 567.3 473.9 571.3 474.8 568.9 475.8 567.9 476.8 569.1 477.7 568.5 478.7 570.7 479.7 570.9 480.6 570.9 481.6 570 482.6 566.3 483.5 571.8 484.5 568.1 485.5 572.5 486.5 574.4 487.5 572.7 488.5 571.4 489.5 571.9 490.5 572.1 491.5 571.3 492.5 571.3 493.5 570.7 494.5 575 495.5 572.6 496.5 574.6 497.5 572.3 498.4 573 499.4 572.6 500.4 573.9 501 574.7" stroke="#d95319" stroke-width="19" stroke-linecap="butt" stroke-linejoin="bevel"/>
<path d="M531 563.5L532 562 532.9 562 533.9 567.2 534.8 563.6 535.8 563.9 536.7 567.7 537.7 567.3 538.6 566.5 539.6 564.9 540.5 570.7 541.5 567.1 542.4 567.7 543.4 566.6 544.4 564.4 545.3 564.8 546.3 568.6 547.2 568.9 548.2 567.9 549.1 566.4 550.1 566.1 551.1 568.5 552.1 566.3 553.1 571.2 554 571.8 555 574.6 556 571.5 557 568.6 558 568.2 559 565.1 560 569 561 569.9 562 572.3 563 571.8 564 571.8 565 571.2 566 572.2 567 573.9 567 568.9" stroke="#d95319" stroke-width="19" stroke-linecap="butt" stroke-linejoin="bevel"/>
<path d="M584 559.1L585 557.4 586 563.6 586.9 563.1 587.9 562.2 588.9 558.5 589.9 561.5 590.9 560.8 591.9 561.6 592.8 561.3 593.8 562.9 594.8 561.2 595.8 563.9 596.8 562.9 597.8 562 598.7 562.5 599.7 562.1 600.7 564.8 601.7 562.8 602.7 564.1 603.7 562.9 604.6 560.9 605.6 565.8 606.6 562.1 607.6 565.7 608.6 565.4 609.6 561.4 610.6 563 611.5 564 612.5 563.6 613.5 563 614.5 567 615.5 565.3 616.5 566.7 617 565.1" stroke="#d95319" stroke-width="19" stroke-linecap="butt" stroke-linejoin="bevel"/>
<path d="M637 633.6L637.9 633.3 638.7 636.6 639.6 639.6 640.4 640.3 641.3 641.1 642.1 641.7 643 646 643.8 648.2 644.7 648.8 645.5 649.8 646.3 654.6 647.1 660.5 647.9 657.1 648.7 660.4 649.5 662.6 650.3 659 651.1 666.3 651.9 666.8 652.7 673.1 653 670.5" stroke="#d95319" stroke-width="19" stroke-linecap="butt" stroke-linejoin="bevel"/>
<path d="M670 678.4L670.8 681.7 671.7 684.5 672.5 685.1 673.3 688.3 674.2 687.7 675 692.1 675.8 696.2 676.7 700.7 677.5 700.2 678.4 701.4 679.2 705.3 680 707.1 680.9 711.3 681.7 713 682.5 713.5 683.4 717.1 684.2 719.8 685.1 723 685.9 725.6 686.7 726.5 687 724.8" stroke="#d95319" stroke-width="19" stroke-linecap="butt" stroke-linejoin="bevel"/>
<path d="M693 808.7L693.8 806.9 694.7 812 695.5 812.8 696.4 810.3 697.2 816 698.1 817.3 698.9 816.6 699.8 820.7 700.6 822 701.4 816.8 702.3 822.2 703.1 821.9 704 822.8 705 824 705.9 820.9 706.9 821.3 707.9 821 708.9 821.3 709.9 822.8 710.9 820.2 711.9 821.2 712.8 824.6 713.8 823.5 714.8 824.6 715.8 820.2 716 822.4" stroke="#d95319" stroke-width="19" stroke-linecap="butt" stroke-linejoin="bevel"/>
<path d="M744 832.9L744.9 833.5 745.7 831.8 746.6 834.3 747.4 831.8 748.3 831.4 749.1 830.9 750 831.7 750.8 828.9 751.7 831.5 752.5 829.7 753.4 828.5 754.2 827.8 755.1 828.2 755.9 828.7 756.8 828 757.6 826.3 758.4 826.8 759.2 824.7 760.1 826.4 760.9 823.2 761.7 818.6 762.5 824.8 763.3 821.8 764.2 818.6 765 820 765.8 818.1 766.6 823.5 767 820" stroke="#d95319" stroke-width="19" stroke-linecap="butt" stroke-linejoin="bevel"/>
<path d="M781 839.9L781.8 845 782.6 844.1 783.4 849.7 784.2 844.7 785 843.3 785.8 848.9 786.7 849 787.5 849.8 788.3 847.3 789.1 853.4 789.9 856.8 790.7 850.6 791.5 857.7 792.3 855.2 793.2 862.2 794.2 859.6 795.1 859.5 796 863.3 797 863.3 797.9 862.2 798.9 866 799.8 864.7 800 862.4" stroke="#d95319" stroke-width="19" stroke-linecap="butt" stroke-linejoin="bevel"/>
<path d="M821 893.1L821.8 888.9 822.6 889 823.4 891.4 824.2 888.2 825 889.2 825.9 891.5 826.7 892.1 827.5 893.8 828.3 896.5 829.1 893.9 829.9 896.5 830.7 897.3 831.5 894.5 832.3 897.7 833.1 896 833.9 900.6 834.7 899.9 835.5 899.7 836.3 897.6 837.1 901.1 837.9 899.9 838.7 903.5 839.5 902.4 840 901.4" stroke="#d95319" stroke-width="19" stroke-linecap="butt" stroke-linejoin="bevel"/>
<path d="M862 911.9L862.8 910.5 863.7 907 864.5 909.6 865.4 905.7 866.2 904.8 867.1 904.7 867.9 902 868.8 901.7 869.6 901.4 870.4 903.8 871.3 902.9 872.1 898.4 873 901.2 873.9 897 874.7 897 875.6 897.1 876.5 895.1 877.4 898.4 878.3 893.2 879.2 889.4 880.1 893.6 880.9 889.2 881.8 888.6 882.7 883.3 883.6 889.4 884.5 888.2 885 887.6" stroke="#d95319" stroke-width="19" stroke-linecap="butt" stroke-linejoin="bevel"/>
<path d="M896 959L896.8 965.1 897.6 966.3 898.4 972.9 899.3 974.2 900.1 979.7 900.9 985.9 901.8 988 902.6 987.9 903.5 994.7 904.3 997 905.2 999.1 906 1004.9" stroke="#d95319" stroke-width="19" stroke-linecap="butt" stroke-linejoin="bevel"/>
<path d="M917 1080.2L917.8 1079.9 918.7 1083 919.5 1090.8 920.3 1086.3 921.2 1091.9 922 1094.8 922.8 1096.9 923.7 1095.3 924.5 1099.2 925.3 1102.2 926.1 1105.9 927 1105.3 927.8 1106.7 928.6 1113.3 929.4 1115.9 930.3 1116.8 931.1 1117.2 931.9 1121.6 932 1121.2" stroke="#d95319" stroke-width="19" stroke-linecap="butt" stroke-linejoin="bevel"/>
<path d="M952 1102.7L952.9 1099 953.7 1102.2 954.6 1102.2 955.5 1100.8 956.3 1104 957.2 1104.1 958 1103.7 958.9 1105.8 959.8 1102.7 960.6 1105.9 961.5 1107.4 962.4 1107.6 963.2 1109.7 964.1 1105.7 964.9 1105.6 965.7 1109.7 966.5 1110.8 967.3 1114.7 968.1 1112.3 968.9 1109.9 969.7 1113.9 970.5 1111.2 971.3 1110.5 972.1 1119.1 972.9 1115.3 973.7 1116.7 974.5 1117 975.3 1120.1 976 1117.6" stroke="#d95319" stroke-width="19" stroke-linecap="butt" stroke-linejoin="bevel"/>
<path d="M997 1160.4L998 1155.9 999 1155.2 1000 1160.9 1001 1160.9 1002 1159 1003 1158.5 1004 1158.3 1005 1156.6 1006 1161.1 1007 1159.3 1008 1159 1009 1158.8 1010 1160.1 1011 1159 1012 1159.5 1013 1155.7 1014 1159 1015 1162.4 1016 1157 1017 1157.7 1018 1159.8 1019 1159.9 1020 1159.2 1021 1154.8 1022 1159 1023 1155.6 1024 1156.4 1025 1159.1 1026 1157.4 1027 1159.6 1028 1163 1029 1159.6 1030 1159.4" stroke="#d95319" stroke-width="19" stroke-linecap="butt" stroke-linejoin="bevel"/>
<path d="M1050 1134.2L1050.8 1132.9 1051.7 1130.2 1052.5 1129.5 1053.3 1126.5 1054.2 1125.6 1055 1124.7 1055.8 1121.3 1056.7 1118.6 1057.5 1116.9 1058.3 1118.7 1059.2 1116.1 1060 1116.2 1060.8 1114.5 1061.6 1109.8 1062.5 1109.8 1063.4 1103.5 1064.3 1108.9 1065.1 1104.6 1066 1099.7 1066.9 1095.8 1067.8 1096.8 1068.6 1090.2 1069.5 1090.3 1070.4 1091.3 1071.3 1087.9 1072 1085" stroke="#d95319" stroke-width="19" stroke-linecap="butt" stroke-linejoin="bevel"/>
<path d="M1111 1045.9L1111.9 1042.4 1112.8 1045.5 1113.6 1044.4 1114.5 1044.2 1115.4 1047.3 1116.3 1044.9 1117.1 1051.2 1118 1046.7 1118.9 1052.3 1119.8 1046.6 1120.7 1050.5 1121.5 1047.3 1122.4 1047.6 1123.3 1051.4 1124.3 1053.3 1125.2 1050.2 1126.2 1055.9 1127.2 1052.7 1128.1 1055.4 1129.1 1056.7 1130 1057.9 1131 1053.9 1132 1061.5 1132.9 1060.2 1133.9 1059.1 1134 1058" stroke="#d95319" stroke-width="19" stroke-linecap="butt" stroke-linejoin="bevel"/>
<path d="M1174 1079.6L1174.9 1081.1 1175.9 1085.8 1176.8 1084.8 1177.7 1084.1 1178.7 1086.1 1179.6 1091.1 1180.5 1088.2 1181.5 1088.5 1182.4 1093.2 1183.3 1092.2 1184.3 1092.2 1185.2 1091.7 1186.1 1090.7 1187.1 1092.3 1188 1094.5 1188.9 1095.8 1189.9 1097.8 1190.8 1099.1 1191.8 1099.2 1192.7 1100 1193.6 1098.4 1194.6 1097 1195.5 1101 1196.4 1101 1197.4 1102.4 1198.3 1104 1199.2 1102.9 1200.2 1104 1201.1 1106.8 1202.1 1108.1 1203 1107.4 1203.9 1110.5 1204.9 1109.9 1205.8 1109.1 1206.7 1112.1 1207.7 1116.6 1208.6 1112.3 1209 1116.3" stroke="#d95319" stroke-width="19" stroke-linecap="butt" stroke-linejoin="bevel"/>
<path d="M1247 1163.8L1247.9 1164.8 1248.9 1161 1249.8 1167.5 1250.8 1164.5 1251.7 1164.6 1252.7 1165.5 1253.6 1167.9 1254.6 1167.7 1255.5 1168 1256.4 1171.8 1257.4 1168.6 1258.3 1168.7 1259.3 1173.2 1260.2 1173.9 1261.2 1175.5 1262.1 1172 1263.1 1177.1 1264 1176.7 1265 1180.1 1265.9 1174.9 1266.9 1178.6 1267.8 1178.4 1268.8 1176.6 1269.7 1179.2 1270.7 1183.7 1271.6 1181.3 1272.6 1181.6 1273.5 1185.6 1274.5 1186.7 1275.4 1187.5 1276 1184.4" stroke="#d95319" stroke-width="19" stroke-linecap="butt" stroke-linejoin="bevel"/>
<path d="M1305 1189.9L1306 1192.8 1307 1190.2 1307.9 1190.8 1308.9 1194.8 1309.9 1197 1310.9 1192.4 1311.8 1190.5 1312.8 1193.3 1313.8 1195 1314.8 1197.5 1315.7 1199.8 1316.7 1199.1 1317.7 1198.8 1318.7 1201.2 1319.6 1199.8 1320.4 1202.2 1321.2 1201.6 1322 1208.5 1322.8 1205.8 1323.6 1203.1 1324.4 1203.3 1325.2 1205 1326 1203.2 1326.8 1205.7 1327.6 1206.2 1328.4 1210.1 1329.2 1208.1 1330 1207.9 1330.8 1207.4 1331.6 1208.4 1332.4 1211.2 1333.2 1211.5 1334 1214.8 1334.8 1211.9 1335.6 1215.8 1336 1214.5" stroke="#d95319" stroke-width="19" stroke-linecap="butt" stroke-linejoin="bevel"/>
<path d="M1364 1256L1364.8 1252.9 1365.6 1255.3 1366.4 1260.4 1367.2 1262.7 1368 1261.2 1368.8 1263.3 1369.6 1261.9 1370.4 1263 1371.2 1263.4 1371.9 1267.6 1372.7 1267.3 1373.5 1267.1 1374.3 1267.9 1375.1 1270.6 1375.9 1271.1 1376.7 1269.8 1377.5 1275.8 1378.3 1273.9 1379.1 1274.3 1379.9 1278.2 1380.7 1278.3 1381.5 1277 1382.3 1279.2 1383.1 1277 1383.9 1278.8 1384.7 1276.5 1385.5 1284.4 1386.3 1279.2 1387.1 1285.3 1387.9 1283.2 1388.7 1283.9 1389.5 1286.4 1390.3 1288.3 1391.1 1290 1391.9 1293.2 1392.7 1291.4 1393 1292.8" stroke="#d95319" stroke-width="19" stroke-linecap="butt" stroke-linejoin="bevel"/>
<path d="M1420 1336.8L1420.9 1339.8 1421.9 1339 1422.8 1338.2 1423.7 1339.3 1424.6 1339.7 1425.6 1340.6 1426.5 1341.4 1427.4 1340 1428.4 1339.9 1429.3 1343.2 1430.2 1338.7 1431.1 1341.2 1432.1 1345.9 1433 1338.2 1433.9 1342.2 1434.9 1345.3 1435.8 1341 1436.7 1349.7 1437.7 1340 1438.6 1348.3 1439.5 1348.9 1440.5 1347.9 1441.4 1346 1442.3 1347.5 1443.3 1345.4 1444.2 1349.2 1445.1 1345.7 1446.1 1347.7 1447 1350.6 1447.9 1346.7 1448 1348.3" stroke="#d95319" stroke-width="19" stroke-linecap="butt" stroke-linejoin="bevel"/>
<path d="M1490 1379.3L1490.9 1376.8 1491.8 1382.2 1492.7 1381 1493.6 1377.8 1494.5 1381.1 1495.4 1380.1 1496.3 1380.8 1497.2 1382.7 1498 1381.6 1498.9 1385.4 1499.8 1382.5 1500.7 1386.3 1501.6 1384.7 1502.5 1387 1503.4 1384.6 1504.3 1385.1 1505.2 1384.3 1506.1 1388.2 1507 1389.4 1507.9 1392.2 1508.8 1390.9 1509.7 1389.2 1510.7 1388.7 1511.6 1390.3 1512.5 1389.8 1513.4 1393.2 1514.4 1392.5 1515.3 1389.3 1516.2 1390 1517.1 1394.5 1518.1 1392.8 1519 1392.1 1519.9 1395.3 1520.8 1392.5 1521.8 1393.1 1522.7 1393.1 1523.6 1390.5 1524.5 1396.5 1525 1392.6" stroke="#d95319" stroke-width="19" stroke-linecap="butt" stroke-linejoin="bevel"/>
<path d="M1563 1428.9L1564 1428.6 1565 1431.6 1566 1430.1 1567 1430.4 1568 1427.1 1569 1430.4 1570 1427.7 1571 1431.4 1572 1431.6 1573 1430.9 1574 1435.1 1574.9 1432.2 1575.9 1432.4 1576.9 1431.6 1577.9 1431 1578.9 1433.4 1579.9 1433.8 1580.9 1429.1 1581.9 1433.9 1582.9 1432.9 1583.9 1433.9 1584.9 1433 1585.9 1429.7 1586.9 1429.9 1587.9 1436 1588.9 1433 1589.9 1429.7 1590.9 1433.4 1591.9 1432 1592.9 1429.2 1593.9 1428.4 1594.9 1429.8 1595.9 1433.7 1596.8 1433.1 1597.8 1432.8 1598.8 1434 1599.8 1434.7 1600.8 1429.4 1601.8 1433.1 1602.8 1432.1 1603.8 1431.4 1604.8 1432.9 1605 1433.8" stroke="#d95319" stroke-width="19" stroke-linecap="butt" stroke-linejoin="bevel"/>
<path d="M1649 1452.5L1650 1449.9 1651 1451.7 1651.9 1456.5 1652.9 1450.1 1653.9 1448.7 1654.9 1452.4 1655.9 1452.9 1656.9 1452.4 1657.8 1449.1 1658.8 1453.1 1659.8 1449.4 1660.8 1448.5 1661.8 1449.4 1662.8 1450.2 1663.7 1451.6 1664.7 1451.3 1665.7 1449.8 1666.7 1451.5 1667.7 1449.6 1668.6 1451 1669.6 1446.3 1670.6 1445.8 1671.6 1450.3 1672.6 1445.8 1673.6 1447.8 1674.6 1448.1 1675.6 1447.1 1676.5 1447.1 1677.5 1450.6 1678.5 1442.7 1679.5 1449.3 1680.5 1451.9 1681.5 1447.2 1682.5 1447 1683.5 1448.3 1684.4 1450.4 1685.4 1444.2 1686.4 1446.6 1687.4 1445.9 1688.4 1447.2 1689 1446.3" stroke="#d95319" stroke-width="19" stroke-linecap="butt" stroke-linejoin="bevel"/>
<path d="M1731 1450.3L1732 1448.2 1733 1449.1 1734 1447.7 1735 1447.7 1736 1448.7 1737 1448.7 1738 1446.7 1739 1452.1 1740 1448.7 1741 1446.2 1742 1451.2 1743 1447.5 1744 1450 1745 1449 1746 1449.5 1747 1449.3 1748 1447.8 1749 1449.1 1750 1453.1 1751 1444.5 1752 1449.1 1753 1449.9 1754 1446.9 1755 1446.3 1756 1453.3 1757 1448.3 1758 1453.2 1759 1450.1 1760 1449.2 1761 1450 1762 1450.3 1763 1451.4 1764 1449.9 1765 1449.3 1766 1449.4 1767 1451.7 1768 1450.6 1769 1447 1770 1447.7 1771 1449.7 1772 1447.8 1773 1448.2 1774 1447.1 1775 1448.5 1776 1449.8 1777 1451" stroke="#d95319" stroke-width="19" stroke-linecap="butt" stroke-linejoin="bevel"/>
<path d="M1805 1392L1805.1 1389.9 1805.2 1379.3 1805.3 1378.3 1805.4 1369 1806.2 1362.3 1807.2 1359.5 1808.1 1354.6 1809 1358.5 1809.9 1358.3 1810.8 1360.9 1811.7 1353.5 1812.6 1359.8 1813.6 1355.6 1814.6 1357.6 1815.6 1351.2 1816.6 1356.5 1817.6 1355.5 1818.6 1357.6 1819.6 1356.5 1820.6 1354.1 1821.6 1358.3 1822.6 1357.8 1823.6 1357.7 1824.6 1358.5 1825.6 1358.8 1826.6 1356.6 1827.6 1353.9 1828.6 1353.9 1829.6 1359.4 1830.6 1358.2 1831.6 1357 1832.6 1356 1833.6 1357 1834.6 1357 1835.6 1356.3 1836 1355.6" stroke="#d95319" stroke-width="19" stroke-linecap="butt" stroke-linejoin="bevel"/>
<path d="M1886 1372.3L1887 1368.3 1888 1366.4 1888.9 1364.8 1889.9 1365.7 1890.9 1368.4 1891.9 1368.3 1892.9 1366.1 1893.8 1366.5 1894.8 1365.6 1895.8 1363.7 1896.8 1368.4 1897.7 1366.3 1898.7 1370.3 1899.7 1363.6 1900.7 1364.7 1901.7 1366.5 1902.6 1364 1903.6 1361.6 1904.6 1362.2 1905.6 1364.1 1906.6 1364.4 1907.5 1363.3 1908.5 1365.3 1909.5 1365.1 1910.5 1363.6 1911.5 1362.8 1912.4 1362 1913.4 1363.4 1914.4 1364 1915.4 1362 1916.4 1362.6 1917.3 1360.9 1918.3 1358.5 1919.3 1359.1 1920.3 1362.5 1921.3 1361.6 1922.2 1363.7 1923.2 1360.5 1924.2 1361.9 1925.2 1362.6 1926.2 1361.8 1927.1 1358.4 1928.1 1359 1929.1 1359.4 1930 1357" stroke="#d95319" stroke-width="19" stroke-linecap="butt" stroke-linejoin="bevel"/>
<path d="M1970 1381.9L1970.9 1383.4 1971.9 1380.7 1972.8 1385.9 1973.8 1381.7 1974.7 1382.2 1975.7 1382.5 1976.6 1381.9 1977.6 1384.5 1978.5 1384 1979.4 1387.6 1980.4 1385.8 1981.3 1386 1982.3 1384.8 1983.2 1382.8 1984.2 1385.7 1985.1 1384.6 1986.1 1388.5 1987 1386.9 1987.9 1390.6 1988.9 1389 1989.8 1389.6 1990.8 1388.7 1991.7 1389 1992.7 1390.2 1993.6 1390.6 1994.5 1386.9 1995.4 1388.8 1996.3 1392.4 1997.2 1386.8 1998.1 1386.1 1999 1384.8 1999.9 1382.8 2000.8 1387.7 2001.7 1385 2002.6 1385 2003.5 1387.7 2004.4 1388.6 2005.3 1381.4 2006.2 1384.8 2007.1 1383.5 2008 1382.6 2008.9 1382.4 2009.8 1380.9 2010.7 1383.7 2011.6 1381.4 2012.5 1380.4 2013.4 1381.8 2014 1380.8" stroke="#d95319" stroke-width="19" stroke-linecap="butt" stroke-linejoin="bevel"/>
<path d="M2041 1362.9L2041.9 1361.5 2042.8 1363.1 2043.7 1359.4 2044.6 1357 2045.5 1354.3 2046.4 1354.1 2047.3 1351.5 2048.2 1352.6 2049.1 1351.7 2050 1345.9 2050.9 1348.8 2051.8 1348.9 2052.7 1346.7 2053.5 1339.4 2054.2 1337.6 2054.8 1327.5 2055.5 1320.2 2056.5 1315.5 2057.3 1317.1 2058.2 1318.5 2059 1318.3 2059.8 1315.9 2060.7 1312.5 2061.5 1313 2062.3 1312 2063.1 1312.9 2064 1309.1 2064.8 1312.4 2065.6 1312.9 2066.5 1310.7 2067.3 1311.4 2068 1308.1" stroke="#d95319" stroke-width="19" stroke-linecap="butt" stroke-linejoin="bevel"/>
<path d="M2085 1360.1L2085.8 1365.4 2086.6 1372.6 2087.4 1376 2088.3 1376.7 2089.1 1383.7 2089.9 1384.3 2090.7 1391.7 2091.5 1393 2092.4 1394.5 2093.2 1400.4 2094.1 1400.7 2094.9 1403.7 2095.8 1406.1 2096.6 1412.9 2097 1413.9" stroke="#d95319" stroke-width="19" stroke-linecap="butt" stroke-linejoin="bevel"/>
<path d="M222.8 311.9L223.8 311.5 224.8 312.8 225.8 311.1 226.7 310.7 227.7 312.1 228.7 312.1 229.7 311.1 230.7 309.2 231.7 310 232.7 310.8 233.6 310.1 234.6 311.2 235.6 308.7 236.6 310.1 237.6 308.9 238.6 310.3 239.5 309 240.5 309.7 241.5 308.2 242.5 307.5 243.5 307.6 244.5 307.8 245.5 307.3 246.5 308.9 247.4 308.9 248.4 307.9 249.4 306.7 250.4 307.3 251.4 306.7 252.4 308.2 253.4 307.1 254.4 307.1 255.4 306.3 256.3 304.8 257.3 305.6 258.3 305.2 259.3 306.2 260.2 305.6" stroke="#edb120" stroke-width="12" stroke-linecap="butt" stroke-linejoin="bevel"/>
<path d="M271.3 300.5L272.2 301.1 273.2 302.9 274.2 301.2 275.1 301.6 276.1 302.4 277 302.3 278 302.9 278.9 303.9 279.9 305.2 280.8 302.7 281.8 304.4 282.7 304.7 283.7 304.9 284.6 305.2" stroke="#edb120" stroke-width="12" stroke-linecap="butt" stroke-linejoin="bevel"/>
<path d="M295.5 309.9L296.4 311.5 297.2 310.9 298.1 311.6 299 312.2 299.8 312.8 300.7 313.1 301.6 314.5 302.5 314.6 303.4 315.9 304.4 316.9 305.3 317.3 306.2 318.6 307.2 319.6 308.1 321.7 309.1 322.2 310 323 311 325.2 311.9 326.6 312.9 326 313.8 329.9 314.8 329.7 315.6 330.2 316.4 331.6 317.3 331.3 318.2 331.3 319.1 334 319.9 331.8 320.8 333.1 321.7 334.3 322.6 333.3 323.5 334.5 323.7 335" stroke="#edb120" stroke-width="12" stroke-linecap="butt" stroke-linejoin="bevel"/>
<path d="M334.5 341.7L335.5 339.2 336.5 339.7 337.5 340.1 338.4 339.5 339.4 338.3 340.4 339.4 341.4 339 342.4 339.1 343.4 339.4 344.3 339.2 345.3 338.5 346.3 338.3 347.3 336.9 348.3 337.5" stroke="#edb120" stroke-width="12" stroke-linecap="butt" stroke-linejoin="bevel"/>
<path d="M360.1 335.7L361.1 335 362.1 335.2 363 334.3 364 336 365 336.3 366 334.1 367 334.5 368 333.8 368.8 336.6 369.7 337.7 370.6 339.2 371.5 340.7 372.4 342.8 373.2 343.7 374.1 346.8 375 347.5 375.9 350.3 376.8 351.8 377.6 354.4 378.5 355.3 379.3 357.9 380.2 358.2 381 361.2 381.1 360.7" stroke="#edb120" stroke-width="12" stroke-linecap="butt" stroke-linejoin="bevel"/>
<path d="M385.4 372.2L386.3 375 387.1 378.6 387.9 379.1 388.7 381.5 389.7 380.3 390.6 382.8 391.6 380.6 392.5 381.6" stroke="#edb120" stroke-width="12" stroke-linecap="butt" stroke-linejoin="bevel"/>
<path d="M403.9 384.8L404.9 387.7 405.8 385.7 406.8 387.1 407.7 386.9 408.7 386.2 409.6 387.7 410.6 388.8 411.5 388.4 412.5 389.6 413.4 388.9 414.4 389.5 415.3 389.5 416.3 390.2 417.3 391.3 418.3 390 419.3 389.7 420.3 388.9 421.3 388.6 422.3 390.3 423.2 387.9 424.1 386.5 425 385.7 425.9 383.9 426.8 384.4 427.7 379.4 428.7 380.1 429.6 378.9 430.5 375.9 431.5 375.7 432.4 377 433.3 378.3 433.7 376.4" stroke="#edb120" stroke-width="12" stroke-linecap="butt" stroke-linejoin="bevel"/>
<path d="M441.9 384L442.7 387.3 443.5 389 444.3 388.8 445.1 388.5 445.9 392.7 446.7 392.7 447.5 395 448.3 395.3 449.1 396.3 449.4 396.7" stroke="#edb120" stroke-width="12" stroke-linecap="butt" stroke-linejoin="bevel"/>
<path d="M456 408.2L456.9 409.4 457.7 407.8 458.5 410 459.4 413.5 460.2 413 461 413.5 461.9 415.8 462.8 417.2 463.6 418.7 464.5 419.9 465.4 421.6 466.3 423 467.2 425.1 468.1 425.7 469 427.6 469.9 429.2 470.7 431.9 471.6 432.7 472.5 433.1 473.4 434.1 474.3 434.4 475.2 435.4 476.1 435.3 477 436.8 477.9 436.9 478.8 436.2" stroke="#edb120" stroke-width="12" stroke-linecap="butt" stroke-linejoin="bevel"/>
<path d="M489.7 440.5L490.7 441.2 491.6 440.7 492.6 439.9 493.6 438.5 494.5 438 495.5 439.5 496.4 439.5 497.4 439.3 498.4 437.3 499.3 438.9 500.3 437.4 501.3 437.9 502.2 437.6 503.2 436.4" stroke="#edb120" stroke-width="12" stroke-linecap="butt" stroke-linejoin="bevel"/>
<path d="M514.5 432.9L515.3 430.5 516.2 430.2 517.1 428.3 518 428.9 518.9 427.4 519.8 426.8 520.7 425.2 521.6 423.2 522.4 422.8 523.3 421 524.2 420.6 525 419.4 526 418.4 527 419.4 527.9 419.6 528.9 419.5 529.9 420.7 530.9 421.5 531.9 420.1 532.8 420.3 533.8 419 534.8 420.9 535.8 420.8 536.8 419.6 537.7 421.8 538.7 422.2 539.7 421.4 540.7 421.8 541.7 421.6 542.6 423.1 543.6 421.5 544.6 422.7 544.8 424.5" stroke="#edb120" stroke-width="12" stroke-linecap="butt" stroke-linejoin="bevel"/>
<path d="M552.9 431.7L553.8 433 554.6 433.4 555.5 433.5 556.3 435.4 557.2 436.6 558 436.4 558.8 438.4 559.7 440.1 560.5 440.9 561.4 439.7 562.2 441.1 562.4 440.7" stroke="#edb120" stroke-width="12" stroke-linecap="butt" stroke-linejoin="bevel"/>
<path d="M570 441.6L570.9 440 571.8 438.9 572.7 436.4 573.6 435 574.5 434.8 575.4 434.1 576.4 433.3 577.4 434.1 578.4 434.5 579.4 434.2 580.4 433.2 581.4 432.3 582.4 433.8 583.4 434.1 584.4 433.8 585.4 433.7 586.4 433.4 587.4 434.6 588.4 434 589.4 434.1 590.4 433.2 591.4 433.5 592.4 434.1 593.4 433.2 594.4 433 595.4 433.7 596.2 435.4 597 435.8 597.8 438.1 598.6 438.1 599.4 439.2 600.2 439.6 600.6 440.9" stroke="#edb120" stroke-width="12" stroke-linecap="butt" stroke-linejoin="bevel"/>
<path d="M606.9 452.6L607.7 453 608.5 454.6 609.3 455.9 610.1 456.6 610.9 457.7 611.7 459.2 612.5 460.9 613.3 462 614.1 463.3 614.4 463.5" stroke="#edb120" stroke-width="12" stroke-linecap="butt" stroke-linejoin="bevel"/>
<path d="M619.1 473.7L619.9 476.2 620.7 477.8 621.5 481.5 622.3 481.1 623.1 484.7 623.9 488.9 624.7 488.8 625.5 490.5 626.3 493.8 627.1 497.2 627.9 498.4 628.8 501.4 629.6 503.3 630.4 505.3 631.2 510.4 632 510.2" stroke="#edb120" stroke-width="12" stroke-linecap="butt" stroke-linejoin="bevel"/>
<path d="M635 521.2L635.8 526 636.6 531.3 637.3 535.8" stroke="#edb120" stroke-width="12" stroke-linecap="butt" stroke-linejoin="bevel"/>
<path d="M639.3 547.9L640.1 552.1 640.9 555.5 641.8 558.6 642.6 559.2 643.4 560.5 644.2 560.8 645 562.8 645.8 563.9 646.6 565.8 647.4 565.9 648.4 568 649.4 568.1 650.4 567.1 651.4 567.5 652.4 567.3 653.4 568.7 654.4 566 655.4 567.7 656.4 566.7 657.4 567.7 658.4 568.7 659.4 567.5 660.4 568.1 661.4 567.3 662.4 569.6 663.1 568.7" stroke="#edb120" stroke-width="12" stroke-linecap="butt" stroke-linejoin="bevel"/>
<path d="M675.1 568.9L676.1 566.9 677.1 567.1 678.1 568.9 679.1 567.8 680.1 567.8 681.1 568.3 682.1 567 683.1 568.6 684.1 568 685.1 568.4 686.1 567.5 686.9 569 687.8 568.6 688.6 570.5" stroke="#edb120" stroke-width="12" stroke-linecap="butt" stroke-linejoin="bevel"/>
<path d="M698.6 577.3L699.4 577.7 700.2 577.9 701.1 578.6 701.9 576.4 702.7 579.8 703.6 579.5 704.4 580.4 705.2 580.7 706 580.4 706.8 581.7 707.6 583.2 708.4 584.4 709.2 583.4 710 583.8 710.8 586.3 711.6 585 712.4 588 713.2 586.9 714 586.8 714.8 588.9 715.6 590 716.4 588.1 717.2 591.1 718 590.3 718.8 592.3 719.6 591.4 720.5 591.3 721.4 593.8 722.3 595 723.2 596.8 724.1 597.4 724.9 597.5 725.8 597.6 726.7 598.3 727.6 599.4 728.1 599.5" stroke="#edb120" stroke-width="12" stroke-linecap="butt" stroke-linejoin="bevel"/>
<path d="M737.7 605.3L738.7 603.4 739.6 605.5 740.6 605.2 741.6 607.2 742.6 605.6 743.6 604.5 744.6 605.2 745.6 603.7 746.6 604 747.6 602.9 748.6 605.4 749.6 604.6 750.6 603.1 751.6 603.9" stroke="#edb120" stroke-width="12" stroke-linecap="butt" stroke-linejoin="bevel"/>
<path d="M763.5 603.3L764.5 602.8 765.5 602.6 766.5 601.5 767.5 601.6 768.3 602.4 769.1 604.1 769.9 603.6 770.7 604.3 771.5 607.1 772.3 606.4 773.1 609 773.9 609.3 774.7 610.7 775.5 612.4 776.3 612.5 777.1 613.5 777.9 613.2 778.7 615.4 779.6 618.8 780.4 621.9 781.3 624.1 782.1 627.2 783 628 783.8 630.2 784.1 631.6" stroke="#edb120" stroke-width="12" stroke-linecap="butt" stroke-linejoin="bevel"/>
<path d="M789.4 641.4L790.3 642.6 791.1 643.1 791.9 646 792.7 645.6 793.5 648.2 794.3 647.9 795.1 651.2 795.9 650.7 796.7 653.5 797 652" stroke="#edb120" stroke-width="12" stroke-linecap="butt" stroke-linejoin="bevel"/>
<path d="M803.3 663L804.3 665.8 805.2 665.7 806.1 667.9 807 669 807.9 669 808.9 672.6 809.8 674.2 810.7 674.4 811.6 677.2 812.6 677.6 813.4 679.3 814.2 682.2 815 683.7 815.8 688.2 816.6 687.2 817.4 691.2 818.2 693.5 819 693.2 819.8 695.5 820 697.8" stroke="#edb120" stroke-width="12" stroke-linecap="butt" stroke-linejoin="bevel"/>
<path d="M830.2 699.3L831.2 700 832.2 700.6 833.2 699.3 834.2 698.7 835.2 697.4 836.2 699.7 837.2 698.8 838.2 699.7 839.2 699.6 840.2 698.3 841.2 700.7 842.2 700.2 843.2 700 844.2 698.3" stroke="#edb120" stroke-width="12" stroke-linecap="butt" stroke-linejoin="bevel"/>
<path d="M856.2 698.7L857.2 698.6 858.2 698.7 859.2 698.1 860.2 699.3 861.2 699.2 862.2 699.3 863.2 698.6 864.2 700 865.2 699.2 866.2 696.8 867.2 698.5 868.2 699 869.2 699.8 870.2 698.8 871.2 698.8 872.2 698.5 873.2 699.5 874.2 698.6 875.2 698.5 876.2 698.4 877.2 699.4 878.2 698.6 879.2 697.7 880.2 699.5 881.2 698.4 882.2 699.3 883.2 699.3 884.2 700 885.2 699.8 886.2 698.5 887 699.1 887.7 704.4 887.8 707.5" stroke="#edb120" stroke-width="12" stroke-linecap="butt" stroke-linejoin="bevel"/>
<path d="M889.1 718.4L889.8 725.4 890.5 730.2 890.7 730.3" stroke="#edb120" stroke-width="12" stroke-linecap="butt" stroke-linejoin="bevel"/>
<path d="M893.7 744.8L894.5 746.2 895.3 748.9 896.1 751.5 896.9 754.6 897.7 757.1 898.6 758 899.4 762.8 900.2 764.1 901 766.8 901.8 771.2 902.6 773.2 903.5 774.8 904.3 776.2 904.9 779.9" stroke="#edb120" stroke-width="12" stroke-linecap="butt" stroke-linejoin="bevel"/>
<path d="M907.5 792L908.3 795.1 909.1 797.9 909.9 801.9 910.5 804.2" stroke="#edb120" stroke-width="12" stroke-linecap="butt" stroke-linejoin="bevel"/>
<path d="M912.9 817.1L913.8 822 914.6 826.6 915.4 829.7 916.2 834.8 917.1 839.5 917.9 843.1 918.7 847.8 919.6 854 919.9 854.5" stroke="#edb120" stroke-width="12" stroke-linecap="butt" stroke-linejoin="bevel"/>
<path d="M926.2 857.3L927.1 855.7 927.9 855.6 928.8 853.6 929.6 854.5 930.4 854.9 931.3 855.1 932.1 853.8 933 852.9 933.8 851.8 934.6 850.8 935.6 851 936.6 851.8 937.5 850.9 938.5 852.5" stroke="#edb120" stroke-width="12" stroke-linecap="butt" stroke-linejoin="bevel"/>
<path d="M950.2 853.6L951.2 853.2 952.2 854 953.1 853.8 953.9 855.6 954.7 859.2 955.5 859.6 956.3 861.5 957.1 863.8 958 865.5 958.8 865.6 959.6 868.6 960.4 869.4 961.2 870.7 962 872.6 962.8 872.6 963.6 874.7 964.4 876.8 965.3 879.1 966.2 880.1 967.1 882.1 968 884.8 968.9 886.9 969.1 886.8" stroke="#edb120" stroke-width="12" stroke-linecap="butt" stroke-linejoin="bevel"/>
<path d="M974.5 898L975.4 898.1 976.2 899.1 977.1 900.5 977.9 901 978.7 901.7 979.6 904.4 980.4 903.8 981.3 904.2 982.1 906.2 982.9 908.2 983.6 907.6" stroke="#edb120" stroke-width="12" stroke-linecap="butt" stroke-linejoin="bevel"/>
<path d="M991.7 917.4L992.5 917 993.3 917.9 994.1 918.2 995 917.1 995.9 917.2 996.7 913.3 997.6 914 998.4 910.3 999.3 909.4 1000.1 908.7 1001 907.1 1001.9 905.3 1002.7 902.2 1003.5 902.9 1004.5 901 1005.5 903.1 1006.5 900.1 1007.5 899.7 1008.5 897.8 1009.5 897.6 1010.4 896.2 1011.4 897.2 1012.4 895.5 1013.4 895.4 1014.4 893.6 1015.4 893 1015.8 894.1" stroke="#edb120" stroke-width="12" stroke-linecap="butt" stroke-linejoin="bevel"/>
<path d="M1025.8 890.5L1026.7 890.3 1027.6 892.5 1028.5 891.7 1029.5 892.7 1030.4 894.2 1031.3 893.2 1032.2 895 1033.1 894.2 1034 896.3 1034.9 896.6 1035.8 895.6 1036.7 896.3 1037.6 896.2 1038.5 897.4" stroke="#edb120" stroke-width="12" stroke-linecap="butt" stroke-linejoin="bevel"/>
<path d="M1048.2 905.2L1049 903.8 1049.8 906.3 1050.5 905.1 1051.3 906.1 1052.1 905.9 1052.9 909.7 1053.7 908.6 1054.5 909.4 1055.3 909.3 1056.1 911.3 1056.9 909.4 1057.7 911.7 1058.5 914 1059.2 912.6 1060 913.5 1060.8 914.6 1061.6 914.1 1062.6 915.5 1063.6 917 1064.5 917.2 1065.5 918.1 1066.5 918.3 1067.5 919.7 1068.4 920.2 1069.4 922.1 1070.4 922.3 1071.4 922.4 1072.3 921.4 1073.3 924.7 1074.3 925.5 1075.3 925 1076.2 924.9 1077.2 926.3 1078 928.6" stroke="#edb120" stroke-width="12" stroke-linecap="butt" stroke-linejoin="bevel"/>
<path d="M1087.3 934.6L1088.3 935.8 1089.3 937.2 1090.2 938.8 1091.2 938.5 1092.2 939.3 1093 939.5 1093.9 941.5 1094.9 941.3 1095.9 940.7 1096.8 939.9 1097.8 940.6 1098.8 942 1099.5 941.1" stroke="#edb120" stroke-width="12" stroke-linecap="butt" stroke-linejoin="bevel"/>
<path d="M1111.1 945.4L1112.1 945.2 1113 945.4 1114 946 1115 946.1 1115.9 945.3 1116.9 945.9 1117.9 948.3 1118.8 945.7 1119.8 946.6 1120.7 949 1121.5 949.6 1122.4 950.6 1123.2 951.7 1124.1 954.7 1124.9 956.6 1125.7 958.2 1126.6 958.3 1127.4 960.4 1128.3 959.9 1129.2 962.1 1130 962.7 1130.9 964.6 1131.7 966.3 1132.6 967.8 1133.4 967.4 1134.3 970 1135.3 968.7 1136.3 968.4 1136.7 969.1" stroke="#edb120" stroke-width="12" stroke-linecap="butt" stroke-linejoin="bevel"/>
<path d="M1148.6 969.1L1149.6 970.4 1150.6 970.7 1151.6 970.4 1152.6 971.1 1153.6 970.5 1154.6 970.8 1155.6 969.8 1156.6 971 1157.6 970.4 1158.6 970.8 1159.6 971.2 1160.6 971.5 1161.6 970.1 1162.6 970.3 1162.6 971.3" stroke="#edb120" stroke-width="12" stroke-linecap="butt" stroke-linejoin="bevel"/>
<path d="M1174.5 971.2L1175.4 970.9 1176.4 971.2 1177.4 971.3 1178.4 970.5 1179.3 970.2 1180.2 970 1181 970.6 1181.8 971.5 1182.7 972.7 1183.5 973.2 1184.3 973.6 1185.2 974 1186 975.2 1186.8 975.4 1187.7 976 1188.5 976.6 1189.3 976.4 1190.2 976.6 1191 978.4 1191.8 981.2 1192.6 983.6 1193.6 985.1 1194.5 987.8 1195.3 985.9 1196.1 986.9 1197 987.8 1197.8 987.2 1198.6 988.8 1199.5 990.7 1200.3 990.5 1201.1 990.9 1202 991.4 1202.8 991.5" stroke="#edb120" stroke-width="12" stroke-linecap="butt" stroke-linejoin="bevel"/>
<path d="M1212.8 998.8L1213.6 998.4 1214.5 998.8 1215.3 999.7 1216.1 1000.9 1217 1001 1217.8 1001.8 1218.7 1000.2 1219.5 1003.3 1220.3 1004.8 1221.2 1004.5 1222 1003.8 1222.8 1003.9 1223.7 1005.3 1224.5 1004.9 1224.5 1006.3" stroke="#edb120" stroke-width="12" stroke-linecap="butt" stroke-linejoin="bevel"/>
<path d="M1232.3 1014.3L1233.1 1016.5 1233.9 1017.8 1234.7 1016 1235.5 1018.8 1236.3 1019 1237.1 1019.4 1237.9 1021 1238.7 1022.3 1239.5 1024.2 1240.3 1024.7 1241.2 1031.2 1242 1033.2 1242.9 1033.3 1243.7 1034.6 1244.5 1035.4 1245.3 1035.7 1246.1 1038.3 1246.9 1039.5 1247.7 1041 1248.6 1043.7 1249.4 1043.5 1250.2 1044.5 1251 1046.7 1251.8 1045.6" stroke="#edb120" stroke-width="12" stroke-linecap="butt" stroke-linejoin="bevel"/>
<path d="M1258.3 1055.9L1259.1 1057.7 1260 1058.8 1260.8 1061.1 1261.6 1061.6 1262.4 1064.5 1263.2 1065.1 1264.2 1064.4 1265.2 1063.2 1266.1 1063.8 1267.1 1063.7 1268.1 1062 1268.3 1063.1" stroke="#edb120" stroke-width="12" stroke-linecap="butt" stroke-linejoin="bevel"/>
<path d="M1279.9 1064.7L1280.9 1064.6 1281.8 1065.9 1282.8 1065.9 1283.8 1064.4 1284.8 1065.4 1285.8 1064.7 1286.7 1066 1287.7 1065 1288.7 1066.6 1289.7 1066.3 1290.7 1066.9 1291.7 1066.1 1292.7 1065.2 1293.7 1067.9 1294.7 1066.5 1295.7 1067.9 1296.6 1067.3 1297.5 1068.3 1298.4 1070.4 1299.3 1070.4 1300.2 1072.5 1301.1 1071.4 1302 1074.5 1302.9 1074.8 1303.8 1076.1 1304.7 1077.4 1305.6 1078.9 1306.5 1081.1 1307.4 1079.5 1308.3 1082.2 1309.2 1082.8 1309.3 1084.5" stroke="#edb120" stroke-width="12" stroke-linecap="butt" stroke-linejoin="bevel"/>
<path d="M1316.4 1092.9L1317.3 1094.8 1318.2 1095.3 1319.2 1097.3 1320.1 1098.8 1321 1098.8 1321.9 1100.4 1322.9 1100.4 1323.8 1103 1324.7 1103.8 1325.6 1102.8" stroke="#edb120" stroke-width="12" stroke-linecap="butt" stroke-linejoin="bevel"/>
<path d="M1337.5 1105.8L1338.3 1105.8 1339.1 1112.2 1339.9 1118.8 1340.7 1120.7 1341.7 1121.2 1342.7 1121.3 1343.7 1121.4 1344.7 1122.2 1345.6 1121.4 1346.6 1120.9 1347.6 1121 1348.6 1123.9 1349.6 1120.4 1350.6 1122.3 1351.6 1123.7 1352.6 1123.1 1353.6 1122.2 1354.6 1123 1355.6 1123.8 1356.5 1124.2 1357.5 1122.7 1358.5 1124.1 1359.5 1123.9 1360.5 1124.7 1361.2 1125" stroke="#edb120" stroke-width="12" stroke-linecap="butt" stroke-linejoin="bevel"/>
<path d="M1366 1134.1L1366.8 1135.4 1367.7 1138.9 1368.5 1141.8 1369.3 1142.8 1370.1 1144.3 1370.9 1147.8 1371.5 1146.5" stroke="#edb120" stroke-width="12" stroke-linecap="butt" stroke-linejoin="bevel"/>
<path d="M1376.3 1159L1377.1 1159.7 1377.9 1162 1378.7 1163.9 1379.5 1166.8 1380.3 1166.7 1381.2 1169.1 1382 1170.6 1382.9 1174.6 1383.8 1176.2 1384.6 1179.3 1385.5 1179.9 1386.3 1181.7 1387.1 1184 1388 1184.3 1388.8 1186.2 1389.6 1187.4 1390.5 1187.9 1391.3 1188.2 1392.1 1191.5 1393 1192.1 1393.1 1192.9" stroke="#edb120" stroke-width="12" stroke-linecap="butt" stroke-linejoin="bevel"/>
<path d="M1400.3 1199.7L1401.3 1200.2 1402.3 1200 1403.3 1201.2 1404.2 1203 1405.2 1202.8 1406.2 1202.6 1407.2 1202.9 1408.1 1203.6 1409.1 1203 1410.1 1203.8 1411.1 1203.8 1412 1202.1 1413 1203.8 1414 1205.4" stroke="#edb120" stroke-width="12" stroke-linecap="butt" stroke-linejoin="bevel"/>
<path d="M1421 1211.4L1421.8 1216.2 1422.7 1220.5 1423.5 1225.1 1424.3 1230.5 1425.2 1233.6 1426 1237.1 1426.8 1239.7 1427.6 1245.8 1428.1 1247.4" stroke="#edb120" stroke-width="12" stroke-linecap="butt" stroke-linejoin="bevel"/>
<path d="M1431.8 1257.5L1432.8 1259.6 1433.8 1259.6 1434.8 1257.5 1435.8 1259.7 1436.8 1259.4 1437.8 1258.4 1438.8 1259.6 1439.8 1257.7 1440.8 1258 1441.8 1257.8 1442.8 1258.1 1443.8 1259.7 1444.8 1257.9 1445.1 1258.9" stroke="#edb120" stroke-width="12" stroke-linecap="butt" stroke-linejoin="bevel"/>
<path d="M1446.2 1271L1446.8 1278.1 1447.4 1283.9 1448.4 1290.9 1449.3 1290.1 1450.2 1290.2 1451.1 1291.3 1451.9 1292.2 1452.8 1291.9 1453.7 1293.3 1454.6 1295 1455.4 1293.6 1456.3 1294.6 1457.2 1296.1 1458.1 1295 1459 1295.3 1459.8 1295.6 1460.7 1297.2 1461.6 1297.8 1462.5 1297.8 1463.3 1298.4 1464.2 1299.9 1465.1 1300 1465.3 1298.3" stroke="#edb120" stroke-width="12" stroke-linecap="butt" stroke-linejoin="bevel"/>
<path d="M1473 1307.9L1473.9 1309.8 1474.7 1312.1 1475.6 1313.1 1476.5 1314.5 1477.4 1316.5 1478.3 1317.2 1479.2 1320 1479.5 1319.7" stroke="#edb120" stroke-width="12" stroke-linecap="butt" stroke-linejoin="bevel"/>
<path d="M1485.5 1329.3L1486.4 1330.3 1487.4 1331.1 1488.3 1331 1489.2 1331.3 1490.2 1333 1491.1 1332.4 1492.1 1333.5 1493 1332.6 1494 1333.9 1494.9 1332.8 1495.8 1334.1 1496.8 1334.4 1497.7 1335.6 1498.7 1335.6 1499.6 1335.6 1500.6 1336.8 1501.5 1336.6 1502.4 1337.2 1503.4 1337.7 1504.3 1337.4 1505.3 1337.5 1506.2 1338.4 1507.2 1338.1 1508.1 1339.1 1509 1340 1510 1340.1 1510.9 1339.5 1511.9 1339.1 1512.8 1340.4 1513.8 1340.7 1514.7 1342 1515.6 1341.1 1516.6 1341.6 1517.5 1342.7 1518.5 1342 1519.4 1342.6 1519.8 1344.3" stroke="#edb120" stroke-width="12" stroke-linecap="butt" stroke-linejoin="bevel"/>
<path d="M1528.7 1352.2L1529.6 1352.4 1530.5 1352.9 1531.4 1352.8 1532.3 1354.9 1533.3 1355.3 1534.2 1356.2 1535.1 1356 1536.1 1356.8 1537 1357.1 1537.9 1357.9 1538.8 1359.2 1539.7 1358.7 1540.2 1357.3" stroke="#edb120" stroke-width="12" stroke-linecap="butt" stroke-linejoin="bevel"/>
<path d="M1548.9 1366L1549.7 1366.4 1550.6 1368 1551.5 1369.9 1552.4 1370.7 1553.3 1370.8 1554.2 1372.3 1555 1372.4 1555.9 1372.8 1556.8 1373.7 1557.7 1375 1558.6 1377.7 1559.5 1376.4 1560.3 1379.3 1561.2 1380.3 1562.1 1379.9 1563 1380.9 1563.9 1381.4 1564.8 1382.7 1565.7 1384.1 1566.5 1384.5 1567.4 1386.2 1568.4 1386.6 1569.2 1385.4 1570.1 1384.9 1570.9 1384 1571.8 1383.8 1572.6 1382.1 1573.5 1382.8 1574.3 1382.1 1575.2 1380.7 1576 1382.6 1576.8 1379.6 1577.2 1379.4" stroke="#edb120" stroke-width="12" stroke-linecap="butt" stroke-linejoin="bevel"/>
<path d="M1588.2 1382.9L1589.1 1381.5 1590 1382.8 1590.9 1382.6 1591.9 1383.5 1592.8 1384.5 1593.7 1385.2 1594.6 1386.3 1595.6 1386.4 1596.5 1387.1 1597.4 1387 1598.3 1386.5 1599.3 1388.2 1600.2 1387.3 1601.1 1387.5 1601.1 1389.2" stroke="#edb120" stroke-width="12" stroke-linecap="butt" stroke-linejoin="bevel"/>
<path d="M1603.9 1390.5L1604.8 1389.9 1605.7 1391.2 1606.7 1391.8 1607.6 1388.2 1608.5 1390.8 1609.4 1389.3 1610.4 1392 1611.3 1390.9 1612.2 1395 1613.1 1393.8 1614.1 1391.8 1615 1393.6 1615.9 1391.9 1616.8 1394.5 1617.8 1395.8 1618.6 1400.9 1619.2 1403.2 1619.8 1412.3 1620.7 1416.1 1621.6 1416.1 1622.4 1418" stroke="#edb120" stroke-width="12" stroke-linecap="butt" stroke-linejoin="bevel"/>
<path d="M1625.2 1414.8L1626.1 1418.5 1627 1416.7 1627.8 1419.5 1628.7 1421.1 1629.5 1422.9 1630.3 1421.9 1631.4 1424.2 1632.4 1421.8 1633.4 1421.4 1634.4 1424.9 1635.4 1423.8 1635.8 1421" stroke="#edb120" stroke-width="12" stroke-linecap="butt" stroke-linejoin="bevel"/>
<path d="M1638.8 1422.4L1639.8 1423.9 1640.8 1426.7 1641.8 1425.8 1642.8 1425.3 1643.8 1420.7 1644.8 1423.7 1645.8 1424.8 1646.8 1424.6 1647.8 1424.6 1648.8 1423.5 1649.8 1427.1 1650.8 1426.6 1651.8 1423.7 1652.7 1420.6 1653.5 1424.3 1654.3 1417.8 1655.1 1419.1 1656 1418.5 1656.8 1411.6 1657.6 1412 1658.4 1409 1659.2 1408.7 1660.1 1406.6 1660.9 1407.7 1661.8 1404 1662.7 1401.8 1662.8 1403.7" stroke="#edb120" stroke-width="12" stroke-linecap="butt" stroke-linejoin="bevel"/>
<path d="M1664.7 1398.8L1665.7 1397.5 1666.6 1401 1667.5 1394.4 1668.5 1393.8 1669.4 1393.6 1670.4 1390.4 1671.3 1387.4 1672.3 1391.9 1673.2 1387.4 1673.5 1387.5" stroke="#edb120" stroke-width="12" stroke-linecap="butt" stroke-linejoin="bevel"/>
<path d="M1676.3 1387.2L1677.3 1386.1 1678.3 1386 1679.3 1388.2 1680.3 1392.2 1681.3 1389.2 1682.3 1389.2 1683.3 1385.2 1684.3 1387.9 1685.3 1385.8 1686.3 1389.3 1687.3 1387.5 1688.3 1388 1689.3 1387.7 1690.3 1386.8 1691.3 1385.2 1692.3 1388.9 1693.3 1385.4 1694.3 1385.8 1695.3 1387.4 1696.3 1386.6 1697.3 1388.4 1698.3 1389.7 1699.3 1388.3 1700.3 1388.2 1701.3 1387.9 1702.3 1389.4 1703.3 1384.6 1704.3 1388.6 1705.3 1386.2 1706.3 1385.7 1707.2 1388.2 1708.2 1387.7 1709.2 1389.6 1710.2 1390.8 1711.1 1384.8 1712.1 1389.1 1713.1 1393 1714.1 1391.2" stroke="#edb120" stroke-width="12" stroke-linecap="butt" stroke-linejoin="bevel"/>
<path d="M1717 1392.9L1718 1390.7 1719 1388.1 1719.9 1388.9 1720.9 1392.4 1721.9 1393.1 1722.9 1390.2 1723.8 1391.3 1724.8 1392.5 1725.8 1389 1726.8 1391.8 1727.8 1395.5 1728.7 1396.8 1729.7 1392.8 1730.7 1396.5" stroke="#edb120" stroke-width="12" stroke-linecap="butt" stroke-linejoin="bevel"/>
<path d="M1733.6 1392.9L1734.6 1392.6 1735.6 1390.2 1736.6 1396.2 1737.5 1394 1738.5 1399.1 1739.5 1395.7 1740.5 1395.6 1741.5 1392.2 1742.4 1398.4 1743.4 1395.2 1744.4 1395.8 1745.4 1392.3 1746.4 1398.1 1747.3 1398.5 1748.3 1395.8 1749.3 1397.2 1750.3 1398 1751.3 1399.2 1752.2 1397.9 1753.2 1401 1754.2 1397.6 1755.2 1397.2 1756.2 1397.6 1757.1 1394.1 1758.1 1397.4 1759.1 1400.9 1760.1 1399.8 1761.1 1398 1762 1400.3 1763 1396.3 1763.9 1400.3 1764.8 1402.6 1765.7 1403.8 1766.5 1402.1 1767.4 1406 1768.3 1408.6 1768.7 1404.8" stroke="#edb120" stroke-width="12" stroke-linecap="butt" stroke-linejoin="bevel"/>
<path d="M1770.8 1409L1771.7 1405.8 1772.7 1405.8 1773.5 1411 1774.3 1410.5 1775.2 1411.3 1776 1410.4 1776.9 1411.5 1777.7 1414 1778.6 1416.2 1779.4 1413.3 1780.2 1411.2 1781.1 1417 1781.9 1416.4 1782.3 1416.8" stroke="#edb120" stroke-width="12" stroke-linecap="butt" stroke-linejoin="bevel"/>
<path d="M1784.9 1417.5L1785.7 1421.9 1786.6 1418.4 1787.4 1419.6 1788.3 1415.9 1789.2 1418.7 1790 1419 1790.9 1420.7 1791.8 1421.8 1792.6 1420.3 1793.5 1425.3 1794.4 1420.8 1795.2 1422.4 1796.1 1424.1 1797 1421.9 1797.8 1425.7 1798.7 1426.3 1799.6 1425.1 1800.5 1429.9 1801.4 1427.5 1802.3 1428.8 1803.1 1427.4 1804 1427 1804.9 1429.8 1805.7 1431.3 1806.6 1431.9 1807.5 1435.1 1808.3 1430.3 1809.2 1433.4 1810.1 1433.1 1810.9 1439.7 1811.8 1437.2 1812.7 1438.1 1813.5 1438 1814.2 1442.3" stroke="#edb120" stroke-width="12" stroke-linecap="butt" stroke-linejoin="bevel"/>
<path d="M1816.3 1442.1L1817.2 1444.2 1818 1441 1818.9 1447.7 1819.8 1447.2 1820.6 1448.4 1821.5 1450.5 1822.4 1448.8 1823.2 1449.8 1824.1 1452.3 1825 1452.6 1825.9 1451.9 1826.3 1452.6" stroke="#edb120" stroke-width="12" stroke-linecap="butt" stroke-linejoin="bevel"/>
<path d="M1829.1 1452.8L1830 1455.4 1830.9 1456.2 1831.8 1454.9 1832.7 1458.7 1833.6 1452.9 1834.6 1455.7 1835.5 1459.6 1836.4 1456.2 1837.3 1454.4 1838.2 1460.2 1839.1 1459.1 1840.1 1456.4 1841 1460.3 1841.9 1457.5 1842.8 1457.3 1843.7 1459.9 1844.6 1459.7 1845.5 1459 1846.5 1460.7 1847.4 1459.9 1848.3 1462.3 1849.2 1462.5 1850.1 1464.3 1851 1462.7 1851.9 1461.6 1852.7 1462.1 1853.6 1464.5 1854.5 1468.2 1855.3 1467.5 1856.2 1465.3 1857.1 1468.7 1857.9 1465.4 1858.8 1469.8 1859.7 1467.7 1860.5 1470.3 1861.4 1470.6 1862.3 1469.4 1863.1 1471" stroke="#edb120" stroke-width="12" stroke-linecap="butt" stroke-linejoin="bevel"/>
<path d="M1865.9 1469.6L1866.9 1471.7 1867.8 1474.1 1868.8 1477.9 1869.7 1474 1870.7 1473.2 1871.7 1471.5 1872.6 1475.5 1873.6 1470.9 1874.5 1472.7 1875.5 1475.1 1876.4 1472.6 1877.4 1477.8 1878.3 1477.3 1879.3 1474.6" stroke="#edb120" stroke-width="12" stroke-linecap="butt" stroke-linejoin="bevel"/>
<path d="M1882.2 1475.5L1883.1 1474.5 1884.1 1474.6 1885 1478.2 1886 1478.9 1886.9 1478.7 1887.9 1478.8 1888.8 1477.6 1889.8 1479.6 1890.8 1476.6 1891.7 1479.5 1892.7 1482.5 1893.7 1482.2 1894.6 1478.9 1895.6 1479 1896.6 1482 1897.6 1482.6 1898.6 1476.6 1899.6 1478.4 1900.6 1479.5 1901.6 1481.2 1902.6 1477.4 1903.6 1479.9 1904.6 1478.1 1905.6 1482.9 1906.6 1479.2 1907.6 1478.1 1908.6 1477.6 1909.6 1480.1 1910.6 1479.3 1911.5 1476 1912.5 1478.2 1913.5 1475.3 1914.5 1476.2 1915.5 1475.2 1916.5 1475 1917.5 1476.1 1918.5 1475.4 1919.5 1478" stroke="#edb120" stroke-width="12" stroke-linecap="butt" stroke-linejoin="bevel"/>
<path d="M1922.5 1478.6L1923.5 1476.8 1924.5 1475.4 1925.4 1479 1926.4 1474 1927.4 1474.3 1928.4 1479.2 1929.4 1479.2 1930.4 1479.9 1931.4 1477.9 1932.4 1476.2 1933.4 1477.6 1934.4 1479.7 1935.4 1477.4 1936.3 1477.7" stroke="#edb120" stroke-width="12" stroke-linecap="butt" stroke-linejoin="bevel"/>
<path d="M1939.2 1477.3L1940.2 1478 1941.1 1481.9 1942.1 1481.5 1943.1 1478.8 1944 1479.3 1945 1480.5 1946 1482.8 1946.9 1479.9 1947.9 1482 1948.8 1478.7 1949.8 1480.6 1950.6 1485.1 1951.5 1488.1 1952.4 1486.4 1953.2 1489.2 1954.1 1494.1 1955 1494 1955.9 1495.8 1956.8 1499.8 1957.6 1501.3 1958.5 1505 1959.4 1506.5 1960.3 1506.1 1960.4 1507.4" stroke="#edb120" stroke-width="12" stroke-linecap="butt" stroke-linejoin="bevel"/>
<path d="M1962 1510L1962.8 1508.6 1963.6 1510.3 1964.4 1514.8 1965.2 1511.1 1965.9 1516.8 1966.7 1516.5 1967.5 1516.7 1968.3 1518.8 1969.1 1519.7 1969.9 1522 1970.7 1520 1970.9 1520.6" stroke="#edb120" stroke-width="12" stroke-linecap="butt" stroke-linejoin="bevel"/>
<path d="M1972.8 1522.8L1973.5 1527.7 1974.3 1526.9 1975.1 1524.5 1975.9 1526.6 1976.7 1526.9 1977.5 1529.1 1978.3 1530.4 1979.1 1535.2 1980 1528.6 1981 1534.5 1981.9 1534.3 1982.8 1533.1 1983.8 1534.9 1984.7 1535.1 1985.6 1536.9 1986.6 1539.5 1987.5 1535.8 1988.4 1540.8 1989.3 1536.8 1990.1 1539.3 1990.9 1536.3 1991.7 1536.9 1992.6 1534.7 1993.4 1534.7 1994.2 1531.9 1995 1529.4 1995.9 1529.7 1996.7 1527.5 1996.9 1529.6" stroke="#edb120" stroke-width="12" stroke-linecap="butt" stroke-linejoin="bevel"/>
<path d="M1997.9 1519.4L1998.7 1520.3 1999.6 1521.3 2000.5 1516.3 2001.5 1517.4 2002.4 1520.8 2003.3 1518.7 2004.3 1513.7 2005.2 1517.1 2006.2 1515.8 2007.1 1514.3" stroke="#edb120" stroke-width="12" stroke-linecap="butt" stroke-linejoin="bevel"/>
<path d="M2010.1 1513.4L2011.1 1513.1 2012.1 1511 2013.1 1511.6 2014.1 1513.8 2015.1 1512.7 2016.1 1515.7 2017.1 1511.7 2018.1 1507.9 2019.1 1511.5 2020.1 1512.6 2021.1 1512.7 2022.1 1512 2022.9 1509.4 2023.7 1512.7 2024.5 1507.8 2025.4 1509.4 2026.2 1506.6 2027 1504.1 2027.8 1507.8 2028.7 1499.8 2029.7 1502.1 2030.6 1504 2031.5 1502.1 2032.3 1503.6 2033.2 1501.7 2034.1 1500.6 2035 1504.8 2035.9 1500.1 2036.8 1499.8 2037.7 1497.7 2038.6 1497.8 2039.4 1499.4 2040.3 1497.7 2041.1 1495.3" stroke="#edb120" stroke-width="12" stroke-linecap="butt" stroke-linejoin="bevel"/>
<path d="M2042.7 1491.4L2043.5 1492.4 2044.4 1486.6 2045.3 1487.5 2046.2 1486.1 2047 1483.6 2047.9 1483.8 2048.8 1480.9 2049.7 1479.1" stroke="#edb120" stroke-width="12" stroke-linecap="butt" stroke-linejoin="bevel"/>
<path d="M2052.1 1482.3L2053.1 1480 2054 1480.4 2054.9 1478 2055.8 1479.2 2056.7 1478.5 2057.7 1478.9 2058.6 1480.6 2059.5 1475.5 2060.4 1476 2061.3 1475 2062.3 1469.3 2063.2 1471.8 2064.1 1474 2065.1 1475.3 2066.1 1473.3 2067.1 1476.5 2068.1 1476.9 2069.1 1474 2070 1477.5 2071 1478.2 2072 1476 2073 1473.6 2074 1478.1 2075 1475.3 2076 1475.1 2077 1476.1 2078 1475.1 2078.9 1478.2 2079.9 1477.8 2080.9 1478.7 2081.9 1477.7 2082.9 1475.4 2083.9 1476.7 2084.7 1479.5 2085.6 1478.4 2086.5 1485.6 2086.9 1480.5" stroke="#edb120" stroke-width="12" stroke-linecap="butt" stroke-linejoin="bevel"/>
<path d="M2088.7 1482.2L2089.6 1486.6 2090.5 1487 2091.4 1486.9 2092.3 1487.7 2093.1 1490.1 2093.9 1493 2094.7 1494.9 2095.4 1494.9" stroke="#edb120" stroke-width="12" stroke-linecap="butt" stroke-linejoin="bevel"/>
<path d="M2096.5 1499L2097.4 1501.6 2098.2 1503.2 2099 1498.3 2099.8 1503.9 2100 1504.6" stroke="#edb120" stroke-width="12" stroke-linecap="butt" stroke-linejoin="bevel"/>
<path d="M222.8 298.6L2193.3 1589.4" stroke="#ff0000" stroke-width="5.5"/>
</g>
<path d="M616.9 1589.4V1571.4M616.9 40.5V58.5M1011.0 1589.4V1571.4M1011.0 40.5V58.5M1405.1 1589.4V1571.4M1405.1 40.5V58.5M1799.2 1589.4V1571.4M1799.2 40.5V58.5M222.8 1331.2H240.8M2193.3 1331.2H2175.3M222.8 1073.1H240.8M2193.3 1073.1H2175.3M222.8 815.0H240.8M2193.3 815.0H2175.3M222.8 556.8H240.8M2193.3 556.8H2175.3M222.8 298.6H240.8M2193.3 298.6H2175.3" stroke="#1f1f1f" stroke-width="2.9" fill="none"/>
<rect x="222.8" y="40.5" width="1970.5" height="1548.9" fill="none" stroke="#1f1f1f" stroke-width="2.9"/>
<g font-family="'Liberation Sans', Arial, sans-serif" font-size="60" fill="#262626" stroke="#fff" stroke-width="1.60">
<g transform="translate(0 1678.5) scale(1 1.045)"><text x="222.8" text-anchor="middle">0</text></g>
<g transform="translate(0 1678.5) scale(1 1.045)"><text x="583.5" text-anchor="middle">5</text><text x="616.9" text-anchor="middle">0</text><text x="650.3" text-anchor="middle">0</text></g>
<g transform="translate(0 1678.5) scale(1 1.045)"><text x="961.0" transform="scale(1 0.930)" stroke="none" text-anchor="middle" font-family="NanumGothic, 'Liberation Sans', sans-serif">1</text><text x="994.3" text-anchor="middle">0</text><text x="1027.7" text-anchor="middle">0</text><text x="1061.0" text-anchor="middle">0</text></g>
<g transform="translate(0 1678.5) scale(1 1.045)"><text x="1355.1" transform="scale(1 0.930)" stroke="none" text-anchor="middle" font-family="NanumGothic, 'Liberation Sans', sans-serif">1</text><text x="1388.4" text-anchor="middle">5</text><text x="1421.8" text-anchor="middle">0</text><text x="1455.1" text-anchor="middle">0</text></g>
<g transform="translate(0 1678.5) scale(1 1.045)"><text x="1749.2" text-anchor="middle">2</text><text x="1782.5" text-anchor="middle">0</text><text x="1815.9" text-anchor="middle">0</text><text x="1849.2" text-anchor="middle">0</text></g>
<g transform="translate(0 1678.5) scale(1 1.045)"><text x="2143.3" text-anchor="middle">2</text><text x="2176.6" text-anchor="middle">5</text><text x="2210.0" text-anchor="middle">0</text><text x="2243.3" text-anchor="middle">0</text></g>
<g transform="translate(0 1611.4) scale(1 1.045)"><text x="179.3" text-anchor="middle">0</text></g>
<g transform="translate(0 1353.2) scale(1 1.045)"><text x="129.3" text-anchor="middle">0</text><text x="154.3" text-anchor="middle">.</text><text x="179.3" text-anchor="middle">2</text></g>
<g transform="translate(0 1095.1) scale(1 1.045)"><text x="129.3" text-anchor="middle">0</text><text x="154.3" text-anchor="middle">.</text><text x="179.3" text-anchor="middle">4</text></g>
<g transform="translate(0 837.0) scale(1 1.045)"><text x="129.3" text-anchor="middle">0</text><text x="154.3" text-anchor="middle">.</text><text x="179.3" text-anchor="middle">6</text></g>
<g transform="translate(0 578.8) scale(1 1.045)"><text x="129.3" text-anchor="middle">0</text><text x="154.3" text-anchor="middle">.</text><text x="179.3" text-anchor="middle">8</text></g>
<g transform="translate(0 320.6) scale(1 1.045)"><text x="179.3" transform="scale(1 0.930)" stroke="none" text-anchor="middle" font-family="NanumGothic, 'Liberation Sans', sans-serif">1</text></g>
<g transform="translate(0 62.5) scale(1 1.045)"><text x="129.3" transform="scale(1 0.930)" stroke="none" text-anchor="middle" font-family="NanumGothic, 'Liberation Sans', sans-serif">1</text><text x="154.3" text-anchor="middle">.</text><text x="179.3" text-anchor="middle">2</text></g>
</g>
<text transform="translate(1207.7 1763.5) scale(1.19 1)" font-family="'Noto Serif CJK SC', 'Liberation Serif', serif" font-size="62" style="font-feature-settings:'hwid'" fill="#262626" text-anchor="middle">Time Step</text>
<text transform="translate(75.5 813.4) rotate(-90) scale(1.19 1)" letter-spacing="1.9" font-family="'Noto Serif CJK SC', 'Liberation Serif', serif" font-size="62" style="font-feature-settings:'hwid'" fill="#262626" text-anchor="middle">RUL</text>
<rect x="1512.5" y="88.6" width="638.1" height="299.8" fill="#fff" stroke="#1f1f1f" stroke-width="2.4"/>
<path d="M1550.8 131.0H1733.8" stroke="#0072bd" stroke-width="26"/>
<path d="M1550.8 203.3H1625.6M1695.2 203.3H1733.8" stroke="#d95319" stroke-width="19.5"/>
<path d="M1550.6 273.2H1598M1610.6 273.2H1634.6M1647.2 273.2H1694.9M1707.8 273.2H1731.5" stroke="#edb120" stroke-width="12.5"/>
<path d="M1550.8 345.5H1733.8" stroke="#ff0000" stroke-width="7"/>
<g font-family="'Liberation Sans', Arial, sans-serif" font-size="55" fill="#262626">
<text x="1746" y="153.2">MK-MMD</text>
<text x="1746" y="226.0">SA-ConvLSTM</text>
<text x="1746" y="298.5">Proposed</text>
<text x="1746" y="370.8">Ground Truth</text>
</g>
<text x="1134" y="1887.8" text-anchor="middle" font-family="'Liberation Serif', 'Times New Roman', serif" font-size="84" fill="#000">(<tspan font-weight="bold">a</tspan>)</text>
</svg>
</body></html>
